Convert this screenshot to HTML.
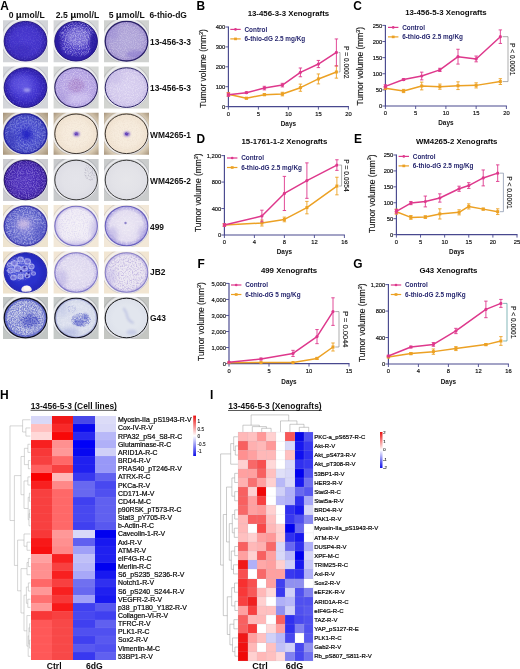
<!DOCTYPE html>
<html lang="en">
<head>
<meta charset="utf-8">
<title>Figure</title>
<style>
html,body{margin:0;padding:0;background:#fff;}
body{width:520px;height:669px;overflow:hidden;font-family:"Liberation Sans", Arial, sans-serif;}
svg{display:block;font-family:"Liberation Sans", Arial, sans-serif;}
</style>
</head>
<body>
<svg width="520" height="669" viewBox="0 0 520 669">
<rect width="520" height="669" fill="#ffffff"/>
<defs>
<filter id="nzF" x="-5%" y="-5%" width="110%" height="110%" color-interpolation-filters="sRGB"><feTurbulence type="fractalNoise" baseFrequency="0.77" numOctaves="2" seed="3"/><feColorMatrix type="matrix" values="0 0 0 0 0  0 0 0 0 0  0 0 0 0 0  3.0 0 0 0 -1.3" result="a"/><feComposite in="SourceGraphic" in2="a" operator="in"/><feGaussianBlur stdDeviation="0.35"/></filter>
<filter id="nzF2" x="-5%" y="-5%" width="110%" height="110%" color-interpolation-filters="sRGB"><feTurbulence type="fractalNoise" baseFrequency="0.87" numOctaves="2" seed="9"/><feColorMatrix type="matrix" values="0 0 0 0 0  0 0 0 0 0  0 0 0 0 0  2.8 0 0 0 -1.1" result="a"/><feComposite in="SourceGraphic" in2="a" operator="in"/><feGaussianBlur stdDeviation="0.32"/></filter>
<filter id="nzM" x="-5%" y="-5%" width="110%" height="110%" color-interpolation-filters="sRGB"><feTurbulence type="fractalNoise" baseFrequency="0.57" numOctaves="2" seed="11"/><feColorMatrix type="matrix" values="0 0 0 0 0  0 0 0 0 0  0 0 0 0 0  2.2 0 0 0 -0.9" result="a"/><feComposite in="SourceGraphic" in2="a" operator="in"/><feGaussianBlur stdDeviation="0.55"/></filter>
<filter id="nzC" x="-5%" y="-5%" width="110%" height="110%" color-interpolation-filters="sRGB"><feTurbulence type="fractalNoise" baseFrequency="0.22" numOctaves="2" seed="5"/><feColorMatrix type="matrix" values="0 0 0 0 0  0 0 0 0 0  0 0 0 0 0  3.0 0 0 0 -1.3" result="a"/><feComposite in="SourceGraphic" in2="a" operator="in"/><feGaussianBlur stdDeviation="0.6"/></filter>
<filter id="nzC2" x="-5%" y="-5%" width="110%" height="110%" color-interpolation-filters="sRGB"><feTurbulence type="fractalNoise" baseFrequency="0.16" numOctaves="3" seed="21"/><feColorMatrix type="matrix" values="0 0 0 0 0  0 0 0 0 0  0 0 0 0 0  2.6 0 0 0 -1.05" result="a"/><feComposite in="SourceGraphic" in2="a" operator="in"/><feGaussianBlur stdDeviation="0.7"/></filter>
<filter id="blur1" x="-60%" y="-60%" width="220%" height="220%"><feGaussianBlur stdDeviation="1.2"/></filter><filter id="blur2" x="-80%" y="-80%" width="260%" height="260%"><feGaussianBlur stdDeviation="2.2"/></filter><filter id="blur3" x="-80%" y="-80%" width="260%" height="260%"><feGaussianBlur stdDeviation="3.2"/></filter><filter id="blur05" x="-40%" y="-40%" width="180%" height="180%"><feGaussianBlur stdDeviation="0.55"/></filter><filter id="soft" x="-2%" y="-2%" width="104%" height="104%"><feGaussianBlur stdDeviation="0.32"/></filter>
<radialGradient id="g00" cx="50%" cy="50%" r="50%"><stop offset="0" stop-color="#4a3ad2"/><stop offset="0.7" stop-color="#4232c8"/><stop offset="1" stop-color="#2e20a4"/></radialGradient>
<clipPath id="c00"><rect x="3.0" y="20.2" width="45.0" height="42.0"/></clipPath>
<clipPath id="e00"><ellipse cx="25.5" cy="41.2" rx="21.3" ry="19.8"/></clipPath>
<radialGradient id="g01" cx="50%" cy="50%" r="50%"><stop offset="0" stop-color="#4a3ac6"/><stop offset="0.7" stop-color="#4030bc"/><stop offset="1" stop-color="#2a1ca0"/></radialGradient>
<clipPath id="c01"><rect x="53.6" y="20.2" width="45.0" height="42.0"/></clipPath>
<clipPath id="e01"><ellipse cx="76.1" cy="41.2" rx="21.3" ry="19.8"/></clipPath>
<radialGradient id="g02" cx="50%" cy="50%" r="50%"><stop offset="0" stop-color="#b2a8da"/><stop offset="0.75" stop-color="#aca0d6"/><stop offset="1" stop-color="#9888ca"/></radialGradient>
<clipPath id="c02"><rect x="104.0" y="20.2" width="45.0" height="42.0"/></clipPath>
<clipPath id="e02"><ellipse cx="126.5" cy="41.2" rx="21.3" ry="19.8"/></clipPath>
<radialGradient id="g10" cx="50%" cy="50%" r="50%"><stop offset="0" stop-color="#5a4ee0"/><stop offset="0.6" stop-color="#4032cc"/><stop offset="1" stop-color="#2a1ca6"/></radialGradient>
<clipPath id="c10"><rect x="3.0" y="66.6" width="45.0" height="42.0"/></clipPath>
<clipPath id="e10"><ellipse cx="25.5" cy="87.6" rx="21.3" ry="19.8"/></clipPath>
<radialGradient id="g11" cx="50%" cy="50%" r="50%"><stop offset="0" stop-color="#b6a2e2"/><stop offset="0.62" stop-color="#b8a6e4"/><stop offset="1" stop-color="#aa98de"/></radialGradient>
<clipPath id="c11"><rect x="53.6" y="66.6" width="45.0" height="42.0"/></clipPath>
<clipPath id="e11"><ellipse cx="76.1" cy="87.6" rx="21.3" ry="19.8"/></clipPath>
<radialGradient id="g12" cx="50%" cy="50%" r="50%"><stop offset="0" stop-color="#d8cff0"/><stop offset="0.75" stop-color="#d2c8ec"/><stop offset="1" stop-color="#c2b6e4"/></radialGradient>
<clipPath id="c12"><rect x="104.0" y="66.6" width="45.0" height="42.0"/></clipPath>
<clipPath id="e12"><ellipse cx="126.5" cy="87.6" rx="21.3" ry="19.8"/></clipPath>
<radialGradient id="g20" cx="50%" cy="50%" r="50%"><stop offset="0" stop-color="#3434c6"/><stop offset="0.62" stop-color="#4a4ecc"/><stop offset="1" stop-color="#3a3cb6"/></radialGradient>
<clipPath id="c20"><rect x="3.0" y="112.8" width="45.0" height="42.0"/></clipPath>
<clipPath id="e20"><ellipse cx="25.5" cy="133.8" rx="21.3" ry="19.8"/></clipPath>
<radialGradient id="b20" cx="50%" cy="50%" r="72%"><stop offset="0.72" stop-color="#c6b8a2"/><stop offset="1" stop-color="#9a866a"/></radialGradient>
<radialGradient id="g21" cx="50%" cy="50%" r="50%"><stop offset="0" stop-color="#f8eee0"/><stop offset="0.62" stop-color="#f6ebdc"/><stop offset="1" stop-color="#f0e2d0"/></radialGradient>
<clipPath id="c21"><rect x="53.6" y="112.8" width="45.0" height="42.0"/></clipPath>
<clipPath id="e21"><ellipse cx="76.1" cy="133.8" rx="21.3" ry="19.8"/></clipPath>
<radialGradient id="b21" cx="50%" cy="50%" r="72%"><stop offset="0.72" stop-color="#d8cab2"/><stop offset="1" stop-color="#96826a"/></radialGradient>
<radialGradient id="g22" cx="50%" cy="50%" r="50%"><stop offset="0" stop-color="#f8eee0"/><stop offset="0.62" stop-color="#f6ebdc"/><stop offset="1" stop-color="#f0e2d0"/></radialGradient>
<clipPath id="c22"><rect x="104.0" y="112.8" width="45.0" height="42.0"/></clipPath>
<clipPath id="e22"><ellipse cx="126.5" cy="133.8" rx="21.3" ry="19.8"/></clipPath>
<radialGradient id="b22" cx="50%" cy="50%" r="72%"><stop offset="0.72" stop-color="#dacdb6"/><stop offset="1" stop-color="#96826a"/></radialGradient>
<radialGradient id="g30" cx="50%" cy="50%" r="50%"><stop offset="0" stop-color="#4e30bc"/><stop offset="0.62" stop-color="#482ab4"/><stop offset="1" stop-color="#381c98"/></radialGradient>
<clipPath id="c30"><rect x="3.0" y="159.0" width="45.0" height="42.0"/></clipPath>
<clipPath id="e30"><ellipse cx="25.5" cy="180.0" rx="21.3" ry="19.8"/></clipPath>
<radialGradient id="g31" cx="50%" cy="50%" r="50%"><stop offset="0" stop-color="#e4e4ea"/><stop offset="0.62" stop-color="#e2e2e8"/><stop offset="1" stop-color="#dcdce4"/></radialGradient>
<clipPath id="c31"><rect x="53.6" y="159.0" width="45.0" height="42.0"/></clipPath>
<clipPath id="e31"><ellipse cx="76.1" cy="180.0" rx="21.3" ry="19.8"/></clipPath>
<radialGradient id="g32" cx="50%" cy="50%" r="50%"><stop offset="0" stop-color="#e6e6ea"/><stop offset="0.62" stop-color="#e3e3e8"/><stop offset="1" stop-color="#dedee4"/></radialGradient>
<clipPath id="c32"><rect x="104.0" y="159.0" width="45.0" height="42.0"/></clipPath>
<clipPath id="e32"><ellipse cx="126.5" cy="180.0" rx="21.3" ry="19.8"/></clipPath>
<radialGradient id="g40" cx="50%" cy="50%" r="50%"><stop offset="0" stop-color="#8684da"/><stop offset="0.62" stop-color="#6266cc"/><stop offset="1" stop-color="#4a4ec0"/></radialGradient>
<clipPath id="c40"><rect x="3.0" y="205.0" width="45.0" height="42.0"/></clipPath>
<clipPath id="e40"><ellipse cx="25.5" cy="226.0" rx="21.3" ry="19.8"/></clipPath>
<radialGradient id="g41" cx="50%" cy="50%" r="50%"><stop offset="0" stop-color="#f4f1f7"/><stop offset="0.84" stop-color="#f0ecf6"/><stop offset="1" stop-color="#c4bae6"/></radialGradient>
<clipPath id="c41"><rect x="53.6" y="205.0" width="45.0" height="42.0"/></clipPath>
<clipPath id="e41"><ellipse cx="76.1" cy="226.0" rx="21.3" ry="19.8"/></clipPath>
<radialGradient id="g42" cx="50%" cy="50%" r="50%"><stop offset="0" stop-color="#ebe7f3"/><stop offset="0.76" stop-color="#e2dcf0"/><stop offset="1" stop-color="#a298dc"/></radialGradient>
<clipPath id="c42"><rect x="104.0" y="205.0" width="45.0" height="42.0"/></clipPath>
<clipPath id="e42"><ellipse cx="126.5" cy="226.0" rx="21.3" ry="19.8"/></clipPath>
<radialGradient id="g50" cx="50%" cy="50%" r="50%"><stop offset="0" stop-color="#3238d0"/><stop offset="0.62" stop-color="#2a30cc"/><stop offset="1" stop-color="#2428b8"/></radialGradient>
<clipPath id="c50"><rect x="3.0" y="251.5" width="45.0" height="42.0"/></clipPath>
<clipPath id="e50"><ellipse cx="25.5" cy="272.5" rx="21.3" ry="19.8"/></clipPath>
<radialGradient id="g51" cx="50%" cy="50%" r="50%"><stop offset="0" stop-color="#e2ddf0"/><stop offset="0.8" stop-color="#dcd6ee"/><stop offset="1" stop-color="#b4aae2"/></radialGradient>
<clipPath id="c51"><rect x="53.6" y="251.5" width="45.0" height="42.0"/></clipPath>
<clipPath id="e51"><ellipse cx="76.1" cy="272.5" rx="21.3" ry="19.8"/></clipPath>
<radialGradient id="g52" cx="50%" cy="50%" r="50%"><stop offset="0" stop-color="#eeeaf3"/><stop offset="0.84" stop-color="#eae5f1"/><stop offset="1" stop-color="#c4bae6"/></radialGradient>
<clipPath id="c52"><rect x="104.0" y="251.5" width="45.0" height="42.0"/></clipPath>
<clipPath id="e52"><ellipse cx="126.5" cy="272.5" rx="21.3" ry="19.8"/></clipPath>
<radialGradient id="g60" cx="50%" cy="50%" r="50%"><stop offset="0" stop-color="#c4c9e6"/><stop offset="0.62" stop-color="#d4d8ec"/><stop offset="1" stop-color="#b4badf"/></radialGradient>
<clipPath id="c60"><rect x="3.0" y="297.0" width="45.0" height="42.0"/></clipPath>
<clipPath id="e60"><ellipse cx="25.5" cy="318.0" rx="21.3" ry="19.8"/></clipPath>
<radialGradient id="g61" cx="50%" cy="50%" r="50%"><stop offset="0" stop-color="#d6daec"/><stop offset="0.62" stop-color="#dce0ee"/><stop offset="1" stop-color="#d0d6e8"/></radialGradient>
<clipPath id="c61"><rect x="53.6" y="297.0" width="45.0" height="42.0"/></clipPath>
<clipPath id="e61"><ellipse cx="76.1" cy="318.0" rx="21.3" ry="19.8"/></clipPath>
<radialGradient id="g62" cx="50%" cy="50%" r="50%"><stop offset="0" stop-color="#e2e6ee"/><stop offset="0.62" stop-color="#e2e6ee"/><stop offset="1" stop-color="#dce0ea"/></radialGradient>
<clipPath id="c62"><rect x="104.0" y="297.0" width="45.0" height="42.0"/></clipPath>
<clipPath id="e62"><ellipse cx="126.5" cy="318.0" rx="21.3" ry="19.8"/></clipPath>
</defs>
<g clip-path="url(#c00)"><g filter="url(#soft)">
<rect x="2.0" y="19.2" width="47.0" height="44.0" fill="#d2d4d8"/>
<ellipse cx="25.20" cy="40.70" rx="22.60" ry="21.20" fill="none" stroke="#f2f2f6" stroke-opacity="0.75" stroke-width="1.9"/>
<ellipse cx="24.80" cy="40.00" rx="24.00" ry="22.70" fill="none" stroke="#7c7c8c" stroke-opacity="0.5" stroke-width="0.5"/>
<ellipse cx="25.50" cy="41.20" rx="21.3" ry="19.8" fill="url(#g00)"/>
<g clip-path="url(#e00)">
<ellipse cx="25.50" cy="41.20" rx="21.30" ry="19.80" fill="#7a6ce0" opacity="0.35" filter="url(#nzF)"/>
<ellipse cx="21.50" cy="50.20" rx="10.00" ry="6.00" fill="#3a2ab8" opacity="0.5" filter="url(#blur2)"/>
</g>
<ellipse cx="25.50" cy="41.20" rx="21.3" ry="19.8" fill="none" stroke="#281a88" stroke-width="1.0"/>
</g></g>
<g clip-path="url(#c01)"><g filter="url(#soft)">
<rect x="52.6" y="19.2" width="47.0" height="44.0" fill="#d4d6d8"/>
<ellipse cx="75.80" cy="40.70" rx="22.60" ry="21.20" fill="none" stroke="#f2f2f6" stroke-opacity="0.75" stroke-width="1.9"/>
<ellipse cx="75.40" cy="40.00" rx="24.00" ry="22.70" fill="none" stroke="#7c7c8c" stroke-opacity="0.5" stroke-width="0.5"/>
<ellipse cx="76.10" cy="41.20" rx="21.3" ry="19.8" fill="url(#g01)"/>
<g clip-path="url(#e01)">
<ellipse cx="77.10" cy="39.20" rx="18.80" ry="17.80" fill="#b8b0ee" opacity="0.7" filter="url(#nzF2)"/>
<ellipse cx="78.10" cy="37.20" rx="12.00" ry="10.00" fill="#a79ee6" opacity="0.5" filter="url(#blur3)"/>
<ellipse cx="78.10" cy="37.20" rx="12.00" ry="10.00" fill="#dcd8f8" opacity="0.42" filter="url(#nzF)"/>
<ellipse cx="94.10" cy="44.20" rx="4.50" ry="12.00" fill="#2a1ca0" opacity="0.85" filter="url(#blur1)"/>
<ellipse cx="57.60" cy="44.20" rx="4.00" ry="11.00" fill="#2a1ca0" opacity="0.8" filter="url(#blur1)"/>
<ellipse cx="74.10" cy="58.20" rx="12.00" ry="3.50" fill="#3020a8" opacity="0.7" filter="url(#blur1)"/>
</g>
<ellipse cx="76.10" cy="41.20" rx="21.3" ry="19.8" fill="none" stroke="#251880" stroke-width="1.0"/>
</g></g>
<g clip-path="url(#c02)"><g filter="url(#soft)">
<rect x="103.0" y="19.2" width="47.0" height="44.0" fill="#d0d2d0"/>
<ellipse cx="126.20" cy="40.70" rx="22.60" ry="21.20" fill="none" stroke="#f2f2f6" stroke-opacity="0.75" stroke-width="1.9"/>
<ellipse cx="125.80" cy="40.00" rx="24.00" ry="22.70" fill="none" stroke="#7c7c8c" stroke-opacity="0.5" stroke-width="0.5"/>
<ellipse cx="126.50" cy="41.20" rx="21.3" ry="19.8" fill="url(#g02)"/>
<g clip-path="url(#e02)">
<ellipse cx="126.50" cy="41.20" rx="21.30" ry="19.80" fill="#dcd6f0" opacity="0.45" filter="url(#nzF2)"/>
<ellipse cx="135.50" cy="54.20" rx="9.00" ry="4.00" fill="#8270cc" opacity="0.45" filter="url(#blur1)"/>
<ellipse cx="112.50" cy="33.20" rx="6.00" ry="8.00" fill="#9484d4" opacity="0.35" filter="url(#blur2)"/>
</g>
<ellipse cx="126.50" cy="41.20" rx="21.3" ry="19.8" fill="none" stroke="#2a2068" stroke-width="1.3"/>
</g></g>
<g clip-path="url(#c10)"><g filter="url(#soft)">
<rect x="2.0" y="65.6" width="47.0" height="44.0" fill="#d4d6da"/>
<ellipse cx="25.20" cy="87.10" rx="22.60" ry="21.20" fill="none" stroke="#f2f2f6" stroke-opacity="0.75" stroke-width="1.9"/>
<ellipse cx="24.80" cy="86.40" rx="24.00" ry="22.70" fill="none" stroke="#7c7c8c" stroke-opacity="0.5" stroke-width="0.5"/>
<ellipse cx="25.50" cy="87.60" rx="21.3" ry="19.8" fill="url(#g10)"/>
<g clip-path="url(#e10)">
<ellipse cx="20.50" cy="83.60" rx="12.00" ry="9.00" fill="#6a60e6" opacity="0.55" filter="url(#blur3)"/>
<ellipse cx="27.00" cy="90.10" rx="3.60" ry="1.80" fill="#b4b0f4" opacity="0.85" filter="url(#blur1)"/>
<ellipse cx="25.50" cy="87.60" rx="21.30" ry="19.80" fill="#8478e8" opacity="0.3" filter="url(#nzF)"/>
</g>
<ellipse cx="25.50" cy="87.60" rx="21.3" ry="19.8" fill="none" stroke="#261a86" stroke-width="1.0"/>
</g></g>
<g clip-path="url(#c11)"><g filter="url(#soft)">
<rect x="52.6" y="65.6" width="47.0" height="44.0" fill="#d6d8d6"/>
<ellipse cx="75.80" cy="87.10" rx="22.60" ry="21.20" fill="none" stroke="#f2f2f6" stroke-opacity="0.75" stroke-width="1.9"/>
<ellipse cx="75.40" cy="86.40" rx="24.00" ry="22.70" fill="none" stroke="#7c7c8c" stroke-opacity="0.5" stroke-width="0.5"/>
<ellipse cx="76.10" cy="87.60" rx="21.3" ry="19.8" fill="url(#g11)"/>
<g clip-path="url(#e11)">
<ellipse cx="76.10" cy="87.60" rx="21.30" ry="19.80" fill="#e6e0f8" opacity="0.5" filter="url(#nzF2)"/>
<ellipse cx="78.10" cy="98.60" rx="13.00" ry="6.00" fill="#d8cef4" opacity="0.55" filter="url(#blur2)"/>
<ellipse cx="76.10" cy="85.60" rx="8.00" ry="7.00" fill="#9a5aa8" opacity="0.2" filter="url(#blur2)"/>
<ellipse cx="76.10" cy="85.60" rx="8.00" ry="7.00" fill="#8a4c98" opacity="0.22" filter="url(#nzF)"/>
<ellipse cx="63.10" cy="97.60" rx="7.00" ry="6.00" fill="#a898d8" opacity="0.4" filter="url(#blur2)"/>
</g>
<ellipse cx="76.10" cy="87.60" rx="21.3" ry="19.8" fill="none" stroke="#2a2060" stroke-width="1.05"/>
</g></g>
<g clip-path="url(#c12)"><g filter="url(#soft)">
<rect x="103.0" y="65.6" width="47.0" height="44.0" fill="#d2d4d0"/>
<ellipse cx="126.20" cy="87.10" rx="22.60" ry="21.20" fill="none" stroke="#f2f2f6" stroke-opacity="0.75" stroke-width="1.9"/>
<ellipse cx="125.80" cy="86.40" rx="24.00" ry="22.70" fill="none" stroke="#7c7c8c" stroke-opacity="0.5" stroke-width="0.5"/>
<ellipse cx="126.50" cy="87.60" rx="21.3" ry="19.8" fill="url(#g12)"/>
<g clip-path="url(#e12)">
<ellipse cx="126.50" cy="87.60" rx="21.30" ry="19.80" fill="#f0ecfa" opacity="0.5" filter="url(#nzF2)"/>
<ellipse cx="114.50" cy="77.60" rx="8.00" ry="6.00" fill="#c0b4e4" opacity="0.4" filter="url(#blur2)"/>
</g>
<ellipse cx="126.50" cy="87.60" rx="21.3" ry="19.8" fill="none" stroke="#2c2468" stroke-width="1.0"/>
</g></g>
<g clip-path="url(#c20)"><g filter="url(#soft)">
<rect x="2.0" y="111.8" width="47.0" height="44.0" fill="url(#b20)"/>
<ellipse cx="25.20" cy="133.30" rx="22.60" ry="21.20" fill="none" stroke="#f2f2f6" stroke-opacity="0.75" stroke-width="1.9"/>
<ellipse cx="24.80" cy="132.60" rx="24.00" ry="22.70" fill="none" stroke="#7c7c8c" stroke-opacity="0.5" stroke-width="0.5"/>
<ellipse cx="25.50" cy="133.80" rx="21.3" ry="19.8" fill="url(#g20)"/>
<g clip-path="url(#e20)">
<ellipse cx="25.50" cy="133.80" rx="21.30" ry="19.80" fill="#9098e8" opacity="0.6" filter="url(#nzM)"/>
<ellipse cx="25.50" cy="133.80" rx="21.30" ry="19.80" fill="#b8c0f2" opacity="0.35" filter="url(#nzF)"/>
<ellipse cx="26.50" cy="134.80" rx="5.00" ry="5.00" fill="#2424c4" opacity="0.95" filter="url(#blur2)"/>
<ellipse cx="11.50" cy="139.80" rx="5.00" ry="9.00" fill="#3434b8" opacity="0.6" filter="url(#blur2)"/>
</g>
<ellipse cx="25.50" cy="133.80" rx="21.3" ry="19.8" fill="none" stroke="#2626a0" stroke-width="1.5"/>
</g></g>
<g clip-path="url(#c21)"><g filter="url(#soft)">
<rect x="52.6" y="111.8" width="47.0" height="44.0" fill="url(#b21)"/>
<ellipse cx="75.80" cy="133.30" rx="22.60" ry="21.20" fill="none" stroke="#f2f2f6" stroke-opacity="0.75" stroke-width="1.9"/>
<ellipse cx="75.40" cy="132.60" rx="24.00" ry="22.70" fill="none" stroke="#7c7c8c" stroke-opacity="0.5" stroke-width="0.5"/>
<ellipse cx="76.10" cy="133.80" rx="21.3" ry="19.8" fill="url(#g21)"/>
<g clip-path="url(#e21)">
<ellipse cx="76.50" cy="134.00" rx="3.00" ry="2.30" fill="#7a5ac8" opacity="1" filter="url(#blur1)"/>
<ellipse cx="76.30" cy="134.00" rx="1.70" ry="1.40" fill="#5a38b8" opacity="1" filter="url(#blur05)"/>
<ellipse cx="76.10" cy="133.80" rx="21.30" ry="19.80" fill="#e8d8c8" opacity="0.35" filter="url(#nzF)"/>
</g>
<ellipse cx="76.10" cy="133.80" rx="21.3" ry="19.8" fill="none" stroke="#2a2420" stroke-width="0.9"/>
</g></g>
<g clip-path="url(#c22)"><g filter="url(#soft)">
<rect x="103.0" y="111.8" width="47.0" height="44.0" fill="url(#b22)"/>
<ellipse cx="126.20" cy="133.30" rx="22.60" ry="21.20" fill="none" stroke="#f2f2f6" stroke-opacity="0.75" stroke-width="1.9"/>
<ellipse cx="125.80" cy="132.60" rx="24.00" ry="22.70" fill="none" stroke="#7c7c8c" stroke-opacity="0.5" stroke-width="0.5"/>
<ellipse cx="126.50" cy="133.80" rx="21.3" ry="19.8" fill="url(#g22)"/>
<g clip-path="url(#e22)">
<ellipse cx="126.90" cy="134.00" rx="3.00" ry="2.30" fill="#7a5ac8" opacity="1" filter="url(#blur1)"/>
<ellipse cx="126.70" cy="134.00" rx="1.70" ry="1.40" fill="#5a38b8" opacity="1" filter="url(#blur05)"/>
<ellipse cx="126.50" cy="133.80" rx="21.30" ry="19.80" fill="#e8d8c8" opacity="0.35" filter="url(#nzF)"/>
</g>
<ellipse cx="126.50" cy="133.80" rx="21.3" ry="19.8" fill="none" stroke="#2a2420" stroke-width="0.9"/>
</g></g>
<g clip-path="url(#c30)"><g filter="url(#soft)">
<rect x="2.0" y="158.0" width="47.0" height="44.0" fill="#ccccd0"/>
<ellipse cx="25.20" cy="179.50" rx="22.60" ry="21.20" fill="none" stroke="#f2f2f6" stroke-opacity="0.75" stroke-width="1.9"/>
<ellipse cx="24.80" cy="178.80" rx="24.00" ry="22.70" fill="none" stroke="#7c7c8c" stroke-opacity="0.5" stroke-width="0.5"/>
<ellipse cx="25.50" cy="180.00" rx="21.3" ry="19.8" fill="url(#g30)"/>
<g clip-path="url(#e30)">
<ellipse cx="25.50" cy="180.00" rx="21.30" ry="19.80" fill="#a08ce4" opacity="0.6" filter="url(#nzF2)"/>
<ellipse cx="22.50" cy="183.00" rx="10.00" ry="8.00" fill="#8068d4" opacity="0.35" filter="url(#nzM)"/>
</g>
<ellipse cx="25.50" cy="180.00" rx="21.3" ry="19.8" fill="none" stroke="#241468" stroke-width="1.0"/>
</g></g>
<g clip-path="url(#c31)"><g filter="url(#soft)">
<rect x="52.6" y="158.0" width="47.0" height="44.0" fill="#c8cacc"/>
<ellipse cx="75.80" cy="179.50" rx="22.60" ry="21.20" fill="none" stroke="#f2f2f6" stroke-opacity="0.75" stroke-width="1.9"/>
<ellipse cx="75.40" cy="178.80" rx="24.00" ry="22.70" fill="none" stroke="#7c7c8c" stroke-opacity="0.5" stroke-width="0.5"/>
<ellipse cx="76.10" cy="180.00" rx="21.3" ry="19.8" fill="url(#g31)"/>
<g clip-path="url(#e31)">
<ellipse cx="90.10" cy="172.00" rx="6.00" ry="9.00" fill="#50486c" opacity="0.22" filter="url(#nzF)"/>
</g>
<ellipse cx="76.10" cy="180.00" rx="21.3" ry="19.8" fill="none" stroke="#2a2a2a" stroke-width="0.9"/>
</g></g>
<g clip-path="url(#c32)"><g filter="url(#soft)">
<rect x="103.0" y="158.0" width="47.0" height="44.0" fill="#cacccc"/>
<ellipse cx="126.20" cy="179.50" rx="22.60" ry="21.20" fill="none" stroke="#f2f2f6" stroke-opacity="0.75" stroke-width="1.9"/>
<ellipse cx="125.80" cy="178.80" rx="24.00" ry="22.70" fill="none" stroke="#7c7c8c" stroke-opacity="0.5" stroke-width="0.5"/>
<ellipse cx="126.50" cy="180.00" rx="21.3" ry="19.8" fill="url(#g32)"/>
<g clip-path="url(#e32)">
</g>
<ellipse cx="126.50" cy="180.00" rx="21.3" ry="19.8" fill="none" stroke="#2a2a2a" stroke-width="0.9"/>
</g></g>
<g clip-path="url(#c40)"><g filter="url(#soft)">
<rect x="2.0" y="204.0" width="47.0" height="44.0" fill="#eee4d0"/>
<ellipse cx="25.20" cy="225.50" rx="22.60" ry="21.20" fill="none" stroke="#f2f2f6" stroke-opacity="0.75" stroke-width="1.9"/>
<ellipse cx="24.80" cy="224.80" rx="24.00" ry="22.70" fill="none" stroke="#7c7c8c" stroke-opacity="0.5" stroke-width="0.5"/>
<ellipse cx="25.50" cy="226.00" rx="21.3" ry="19.8" fill="url(#g40)"/>
<g clip-path="url(#e40)">
<ellipse cx="25.50" cy="226.00" rx="21.30" ry="19.80" fill="#c4c4f0" opacity="0.7" filter="url(#nzM)"/>
<ellipse cx="25.50" cy="226.00" rx="21.30" ry="19.80" fill="#dcdcf8" opacity="0.4" filter="url(#nzF)"/>
<ellipse cx="23.50" cy="224.00" rx="6.00" ry="4.50" fill="#dcc8e6" opacity="0.75" filter="url(#blur2)"/>
<ellipse cx="39.50" cy="232.00" rx="5.00" ry="9.00" fill="#4a4cc0" opacity="0.5" filter="url(#blur2)"/>
</g>
<ellipse cx="25.50" cy="226.00" rx="21.3" ry="19.8" fill="none" stroke="#3c38a8" stroke-width="1.3"/>
</g></g>
<g clip-path="url(#c41)"><g filter="url(#soft)">
<rect x="52.6" y="204.0" width="47.0" height="44.0" fill="#f2e8d8"/>
<ellipse cx="75.80" cy="225.50" rx="22.60" ry="21.20" fill="none" stroke="#f2f2f6" stroke-opacity="0.75" stroke-width="1.9"/>
<ellipse cx="75.40" cy="224.80" rx="24.00" ry="22.70" fill="none" stroke="#7c7c8c" stroke-opacity="0.5" stroke-width="0.5"/>
<ellipse cx="76.10" cy="226.00" rx="21.3" ry="19.8" fill="url(#g41)"/>
<g clip-path="url(#e41)">
<ellipse cx="94.10" cy="230.00" rx="3.50" ry="10.00" fill="#aea4e0" opacity="0.45" filter="url(#blur2)"/>
<ellipse cx="77.10" cy="244.00" rx="11.00" ry="3.00" fill="#b4aae2" opacity="0.45" filter="url(#blur2)"/>
<ellipse cx="57.10" cy="228.00" rx="2.50" ry="8.00" fill="#c4bae8" opacity="0.3" filter="url(#blur2)"/>
<ellipse cx="76.10" cy="226.00" rx="21.30" ry="19.80" fill="#c8c0ea" opacity="0.35" filter="url(#nzF)"/>
</g>
<ellipse cx="76.10" cy="226.00" rx="21.3" ry="19.8" fill="none" stroke="#7870c4" stroke-width="1.1"/>
</g></g>
<g clip-path="url(#c42)"><g filter="url(#soft)">
<rect x="103.0" y="204.0" width="47.0" height="44.0" fill="#f2e8d8"/>
<ellipse cx="126.20" cy="225.50" rx="22.60" ry="21.20" fill="none" stroke="#f2f2f6" stroke-opacity="0.75" stroke-width="1.9"/>
<ellipse cx="125.80" cy="224.80" rx="24.00" ry="22.70" fill="none" stroke="#7c7c8c" stroke-opacity="0.5" stroke-width="0.5"/>
<ellipse cx="126.50" cy="226.00" rx="21.3" ry="19.8" fill="url(#g42)"/>
<g clip-path="url(#e42)">
<ellipse cx="126.50" cy="226.00" rx="21.30" ry="19.80" fill="#f6f2fa" opacity="0.55" filter="url(#nzM)"/>
<ellipse cx="125.50" cy="223.00" rx="1.20" ry="1.20" fill="#7468c0" opacity="0.8" filter="url(#blur05)"/>
<ellipse cx="112.50" cy="235.00" rx="5.00" ry="8.00" fill="#a096dc" opacity="0.4" filter="url(#blur2)"/>
<ellipse cx="142.50" cy="234.00" rx="4.00" ry="8.00" fill="#a096dc" opacity="0.4" filter="url(#blur2)"/>
</g>
<ellipse cx="126.50" cy="226.00" rx="21.3" ry="19.8" fill="none" stroke="#6860be" stroke-width="1.1"/>
</g></g>
<g clip-path="url(#c50)"><g filter="url(#soft)">
<rect x="2.0" y="250.5" width="47.0" height="44.0" fill="#eee2cc"/>
<ellipse cx="25.20" cy="272.00" rx="22.60" ry="21.20" fill="none" stroke="#f2f2f6" stroke-opacity="0.75" stroke-width="1.9"/>
<ellipse cx="24.80" cy="271.30" rx="24.00" ry="22.70" fill="none" stroke="#7c7c8c" stroke-opacity="0.5" stroke-width="0.5"/>
<ellipse cx="25.50" cy="272.50" rx="21.3" ry="19.8" fill="url(#g50)"/>
<g clip-path="url(#e50)">
<ellipse cx="19.50" cy="268.50" rx="12.00" ry="11.00" fill="#5c64dc" opacity="0.7" filter="url(#blur2)"/>
<ellipse cx="14.50" cy="263.50" rx="3.00" ry="2.70" fill="#c4b4e4" fill-opacity="0.35" stroke="#aab0f0" stroke-width="1.1" stroke-opacity="0.8" filter="url(#blur05)"/>
<ellipse cx="20.50" cy="259.50" rx="2.80" ry="2.52" fill="#c4b4e4" fill-opacity="0.35" stroke="#aab0f0" stroke-width="1.1" stroke-opacity="0.8" filter="url(#blur05)"/>
<ellipse cx="27.50" cy="261.50" rx="3.00" ry="2.70" fill="#c4b4e4" fill-opacity="0.35" stroke="#aab0f0" stroke-width="1.1" stroke-opacity="0.8" filter="url(#blur05)"/>
<ellipse cx="10.50" cy="270.50" rx="2.80" ry="2.52" fill="#c4b4e4" fill-opacity="0.35" stroke="#aab0f0" stroke-width="1.1" stroke-opacity="0.8" filter="url(#blur05)"/>
<ellipse cx="17.50" cy="268.50" rx="3.20" ry="2.88" fill="#c4b4e4" fill-opacity="0.35" stroke="#aab0f0" stroke-width="1.1" stroke-opacity="0.8" filter="url(#blur05)"/>
<ellipse cx="24.50" cy="268.50" rx="2.80" ry="2.52" fill="#c4b4e4" fill-opacity="0.35" stroke="#aab0f0" stroke-width="1.1" stroke-opacity="0.8" filter="url(#blur05)"/>
<ellipse cx="31.50" cy="266.50" rx="2.60" ry="2.34" fill="#c4b4e4" fill-opacity="0.35" stroke="#aab0f0" stroke-width="1.1" stroke-opacity="0.8" filter="url(#blur05)"/>
<ellipse cx="13.50" cy="277.50" rx="2.80" ry="2.52" fill="#c4b4e4" fill-opacity="0.35" stroke="#aab0f0" stroke-width="1.1" stroke-opacity="0.8" filter="url(#blur05)"/>
<ellipse cx="20.50" cy="276.50" rx="2.60" ry="2.34" fill="#c4b4e4" fill-opacity="0.35" stroke="#aab0f0" stroke-width="1.1" stroke-opacity="0.8" filter="url(#blur05)"/>
<ellipse cx="27.50" cy="275.50" rx="2.40" ry="2.16" fill="#c4b4e4" fill-opacity="0.35" stroke="#aab0f0" stroke-width="1.1" stroke-opacity="0.8" filter="url(#blur05)"/>
<ellipse cx="33.50" cy="273.50" rx="2.00" ry="1.80" fill="#c4b4e4" fill-opacity="0.35" stroke="#aab0f0" stroke-width="1.1" stroke-opacity="0.8" filter="url(#blur05)"/>
<ellipse cx="9.50" cy="264.50" rx="2.00" ry="1.80" fill="#c4b4e4" fill-opacity="0.35" stroke="#aab0f0" stroke-width="1.1" stroke-opacity="0.8" filter="url(#blur05)"/>
<ellipse cx="19.50" cy="268.50" rx="14.00" ry="12.00" fill="#e6e0f6" opacity="0.5" filter="url(#nzM)"/>
<ellipse cx="24.50" cy="267.50" rx="1.10" ry="1.10" fill="#20188c" opacity="0.8" filter="url(#blur05)"/>
<ellipse cx="28.50" cy="273.00" rx="1.10" ry="1.10" fill="#20188c" opacity="0.8" filter="url(#blur05)"/>
<ellipse cx="21.00" cy="271.00" rx="1.10" ry="1.10" fill="#20188c" opacity="0.8" filter="url(#blur05)"/>
<ellipse cx="27.00" cy="276.50" rx="1.10" ry="1.10" fill="#20188c" opacity="0.8" filter="url(#blur05)"/>
<ellipse cx="26.50" cy="289.50" rx="5.20" ry="4.00" fill="#f4ecec" opacity="1" filter="url(#blur05)"/>
<ellipse cx="27.00" cy="288.00" rx="3.20" ry="2.20" fill="#fffaf4" opacity="1" filter="url(#blur05)"/>
</g>
<ellipse cx="25.50" cy="272.50" rx="21.3" ry="19.8" fill="none" stroke="#2424a8" stroke-width="0.9"/>
</g></g>
<g clip-path="url(#c51)"><g filter="url(#soft)">
<rect x="52.6" y="250.5" width="47.0" height="44.0" fill="#f2e6d4"/>
<ellipse cx="75.80" cy="272.00" rx="22.60" ry="21.20" fill="none" stroke="#f2f2f6" stroke-opacity="0.75" stroke-width="1.9"/>
<ellipse cx="75.40" cy="271.30" rx="24.00" ry="22.70" fill="none" stroke="#7c7c8c" stroke-opacity="0.5" stroke-width="0.5"/>
<ellipse cx="76.10" cy="272.50" rx="21.3" ry="19.8" fill="url(#g51)"/>
<g clip-path="url(#e51)">
<ellipse cx="76.10" cy="272.50" rx="21.30" ry="19.80" fill="#f4f0fa" opacity="0.6" filter="url(#nzM)"/>
<ellipse cx="76.10" cy="272.50" rx="21.30" ry="19.80" fill="#f4f0fa" opacity="0.4" filter="url(#nzF)"/>
<ellipse cx="62.10" cy="278.50" rx="5.00" ry="9.00" fill="#a89ede" opacity="0.4" filter="url(#blur2)"/>
</g>
<ellipse cx="76.10" cy="272.50" rx="21.3" ry="19.8" fill="none" stroke="#8078c8" stroke-width="1.1"/>
</g></g>
<g clip-path="url(#c52)"><g filter="url(#soft)">
<rect x="103.0" y="250.5" width="47.0" height="44.0" fill="#f2e6d2"/>
<ellipse cx="126.20" cy="272.00" rx="22.60" ry="21.20" fill="none" stroke="#f2f2f6" stroke-opacity="0.75" stroke-width="1.9"/>
<ellipse cx="125.80" cy="271.30" rx="24.00" ry="22.70" fill="none" stroke="#7c7c8c" stroke-opacity="0.5" stroke-width="0.5"/>
<ellipse cx="126.50" cy="272.50" rx="21.3" ry="19.8" fill="url(#g52)"/>
<g clip-path="url(#e52)">
<ellipse cx="126.50" cy="272.50" rx="21.30" ry="19.80" fill="#a898d8" opacity="0.55" filter="url(#nzF)"/>
<ellipse cx="111.50" cy="276.50" rx="4.00" ry="9.00" fill="#c0b6e6" opacity="0.5" filter="url(#blur2)"/>
</g>
<ellipse cx="126.50" cy="272.50" rx="21.3" ry="19.8" fill="none" stroke="#8880c8" stroke-width="1.1"/>
</g></g>
<g clip-path="url(#c60)"><g filter="url(#soft)">
<rect x="2.0" y="296.0" width="47.0" height="44.0" fill="#c2c6c4"/>
<ellipse cx="25.20" cy="317.50" rx="22.60" ry="21.20" fill="none" stroke="#f2f2f6" stroke-opacity="0.75" stroke-width="1.9"/>
<ellipse cx="24.80" cy="316.80" rx="24.00" ry="22.70" fill="none" stroke="#7c7c8c" stroke-opacity="0.5" stroke-width="0.5"/>
<ellipse cx="25.50" cy="318.00" rx="21.3" ry="19.8" fill="url(#g60)"/>
<g clip-path="url(#e60)">
<ellipse cx="25.50" cy="318.00" rx="21.30" ry="19.80" fill="#5058c8" opacity="0.6" filter="url(#nzF2)"/>
<ellipse cx="25.50" cy="318.00" rx="21.30" ry="19.80" fill="#4048c0" opacity="0.45" filter="url(#nzM)"/>
<ellipse cx="30.50" cy="321.00" rx="9.00" ry="6.00" fill="#4850c4" opacity="0.55" filter="url(#blur2)"/>
<ellipse cx="30.50" cy="321.00" rx="10.00" ry="7.00" fill="#3038b8" opacity="0.7" filter="url(#nzM)"/>
<ellipse cx="29.50" cy="309.00" rx="8.00" ry="5.00" fill="#5860c8" opacity="0.5" filter="url(#nzF)"/>
<ellipse cx="13.50" cy="326.00" rx="8.00" ry="9.00" fill="#4850c4" opacity="0.45" filter="url(#nzF)"/>
<ellipse cx="25.5" cy="318.0" rx="20.1" ry="18.6" fill="none" stroke="#3c44bc" stroke-width="2.2" opacity="0.55" filter="url(#blur05)"/>
</g>
<ellipse cx="25.50" cy="318.00" rx="21.3" ry="19.8" fill="none" stroke="#101020" stroke-width="1.2"/>
</g></g>
<g clip-path="url(#c61)"><g filter="url(#soft)">
<rect x="52.6" y="296.0" width="47.0" height="44.0" fill="#c6cac8"/>
<ellipse cx="75.80" cy="317.50" rx="22.60" ry="21.20" fill="none" stroke="#f2f2f6" stroke-opacity="0.75" stroke-width="1.9"/>
<ellipse cx="75.40" cy="316.80" rx="24.00" ry="22.70" fill="none" stroke="#7c7c8c" stroke-opacity="0.5" stroke-width="0.5"/>
<ellipse cx="76.10" cy="318.00" rx="21.3" ry="19.8" fill="url(#g61)"/>
<g clip-path="url(#e61)">
<ellipse cx="76.10" cy="318.00" rx="21.30" ry="19.80" fill="#f2f4fa" opacity="0.5" filter="url(#nzM)"/>
<ellipse cx="79.10" cy="322.50" rx="5.50" ry="3.00" fill="#5c64ca" opacity="0.55" filter="url(#blur1)"/>
<ellipse cx="85.60" cy="317.00" rx="2.40" ry="4.00" fill="#6c74ce" opacity="0.5" filter="url(#blur1)"/>
<ellipse cx="81.10" cy="320.00" rx="9.00" ry="6.50" fill="#4048c0" opacity="0.75" filter="url(#nzM)"/>
<ellipse cx="81.10" cy="320.00" rx="10.00" ry="7.00" fill="#4850c4" opacity="0.5" filter="url(#nzF2)"/>
<ellipse cx="72.10" cy="309.00" rx="5.00" ry="4.00" fill="#7880d0" opacity="0.4" filter="url(#nzF)"/>
<ellipse cx="70.10" cy="332.00" rx="9.00" ry="4.00" fill="#8c94d8" opacity="0.4" filter="url(#blur2)"/>
<ellipse cx="63.10" cy="310.00" rx="5.00" ry="7.00" fill="#a8b0e0" opacity="0.3" filter="url(#blur2)"/>
<ellipse cx="76.1" cy="318.0" rx="20.3" ry="18.8" fill="none" stroke="#7078cc" stroke-width="1.6" opacity="0.3" filter="url(#blur05)"/>
</g>
<ellipse cx="76.10" cy="318.00" rx="21.3" ry="19.8" fill="none" stroke="#181828" stroke-width="1.1"/>
</g></g>
<g clip-path="url(#c62)"><g filter="url(#soft)">
<rect x="103.0" y="296.0" width="47.0" height="44.0" fill="#c4c6c2"/>
<ellipse cx="126.20" cy="317.50" rx="22.60" ry="21.20" fill="none" stroke="#f2f2f6" stroke-opacity="0.75" stroke-width="1.9"/>
<ellipse cx="125.80" cy="316.80" rx="24.00" ry="22.70" fill="none" stroke="#7c7c8c" stroke-opacity="0.5" stroke-width="0.5"/>
<ellipse cx="126.50" cy="318.00" rx="21.3" ry="19.8" fill="url(#g62)"/>
<g clip-path="url(#e62)">
<path d="M123.5,308.0 q3,4 4,9 q1,4 6,6" fill="none" stroke="#8088d0" stroke-width="2.0" opacity="0.36" filter="url(#blur1)"/>
<ellipse cx="131.50" cy="332.00" rx="5.00" ry="2.60" fill="#a4ace0" opacity="0.4" filter="url(#blur1)"/>
</g>
<ellipse cx="126.50" cy="318.00" rx="21.3" ry="19.8" fill="none" stroke="#0c0c10" stroke-width="0.95"/>
</g></g>
<text x="0.30" y="9.80" font-size="11.9" font-weight="bold" fill="#000" text-anchor="start" >A</text>
<text x="26.7" y="18.0" font-size="8.6" font-weight="bold" fill="#111" text-anchor="middle">0 <tspan font-family="DejaVu Sans, Liberation Sans, sans-serif" font-size="8.2">μ</tspan>mol/L</text>
<text x="77.5" y="18.0" font-size="8.6" font-weight="bold" fill="#111" text-anchor="middle">2.5 <tspan font-family="DejaVu Sans, Liberation Sans, sans-serif" font-size="8.2">μ</tspan>mol/L</text>
<text x="126.7" y="18.0" font-size="8.6" font-weight="bold" fill="#111" text-anchor="middle">5 <tspan font-family="DejaVu Sans, Liberation Sans, sans-serif" font-size="8.2">μ</tspan>mol/L</text>
<text x="149.40" y="18.00" font-size="8.45" font-weight="bold" fill="#111" text-anchor="start" >6-thio-dG</text>
<text x="150.00" y="45.40" font-size="8.4" font-weight="bold" fill="#111" text-anchor="start" >13-456-3-3</text>
<text x="150.00" y="91.00" font-size="8.4" font-weight="bold" fill="#111" text-anchor="start" >13-456-5-3</text>
<text x="150.00" y="137.50" font-size="8.4" font-weight="bold" fill="#111" text-anchor="start" >WM4265-1</text>
<text x="150.00" y="183.50" font-size="8.4" font-weight="bold" fill="#111" text-anchor="start" >WM4265-2</text>
<text x="150.00" y="229.50" font-size="8.4" font-weight="bold" fill="#111" text-anchor="start" >499</text>
<text x="150.00" y="275.40" font-size="8.4" font-weight="bold" fill="#111" text-anchor="start" >JB2</text>
<text x="150.00" y="321.40" font-size="8.4" font-weight="bold" fill="#111" text-anchor="start" >G43</text>
<text x="196.60" y="9.80" font-size="11.9" font-weight="bold" fill="#000" text-anchor="start" >B</text>
<text x="288.40" y="16.40" font-size="7.85" font-weight="bold" fill="#0a0a0a" text-anchor="middle" >13-456-3-3 Xenografts</text>
<path d="M228.40,26.50 V106.60 H348.90" fill="none" stroke="#48488e" stroke-width="1.15"/>
<path d="M225.40,106.60 H228.40" stroke="#48488e" stroke-width="0.9"/>
<text x="225.30" y="108.70" font-size="5.8" font-weight="normal" fill="#0a0a0a" text-anchor="end" stroke="#0a0a0a" stroke-width="0.15">0</text>
<path d="M225.40,86.70 H228.40" stroke="#48488e" stroke-width="0.9"/>
<text x="225.30" y="88.80" font-size="5.8" font-weight="normal" fill="#0a0a0a" text-anchor="end" stroke="#0a0a0a" stroke-width="0.15">100</text>
<path d="M225.40,66.80 H228.40" stroke="#48488e" stroke-width="0.9"/>
<text x="225.30" y="68.90" font-size="5.8" font-weight="normal" fill="#0a0a0a" text-anchor="end" stroke="#0a0a0a" stroke-width="0.15">200</text>
<path d="M225.40,46.90 H228.40" stroke="#48488e" stroke-width="0.9"/>
<text x="225.30" y="49.00" font-size="5.8" font-weight="normal" fill="#0a0a0a" text-anchor="end" stroke="#0a0a0a" stroke-width="0.15">300</text>
<path d="M225.40,27.00 H228.40" stroke="#48488e" stroke-width="0.9"/>
<text x="225.30" y="29.10" font-size="5.8" font-weight="normal" fill="#0a0a0a" text-anchor="end" stroke="#0a0a0a" stroke-width="0.15">400</text>
<path d="M228.40,106.60 v3.0" stroke="#48488e" stroke-width="0.9"/>
<text x="228.40" y="115.50" font-size="5.8" font-weight="normal" fill="#0a0a0a" text-anchor="middle" stroke="#0a0a0a" stroke-width="0.15">0</text>
<path d="M258.40,106.60 v3.0" stroke="#48488e" stroke-width="0.9"/>
<text x="258.40" y="115.50" font-size="5.8" font-weight="normal" fill="#0a0a0a" text-anchor="middle" stroke="#0a0a0a" stroke-width="0.15">5</text>
<path d="M288.40,106.60 v3.0" stroke="#48488e" stroke-width="0.9"/>
<text x="288.40" y="115.50" font-size="5.8" font-weight="normal" fill="#0a0a0a" text-anchor="middle" stroke="#0a0a0a" stroke-width="0.15">10</text>
<path d="M318.40,106.60 v3.0" stroke="#48488e" stroke-width="0.9"/>
<text x="318.40" y="115.50" font-size="5.8" font-weight="normal" fill="#0a0a0a" text-anchor="middle" stroke="#0a0a0a" stroke-width="0.15">15</text>
<path d="M348.40,106.60 v3.0" stroke="#48488e" stroke-width="0.9"/>
<text x="348.40" y="115.50" font-size="5.8" font-weight="normal" fill="#0a0a0a" text-anchor="middle" stroke="#0a0a0a" stroke-width="0.15">20</text>
<text transform="translate(206.30,68.50) rotate(-90)" font-size="8.45" fill="#141414" stroke="#141414" stroke-width="0.15" text-anchor="middle">Tumor volume (mm<tspan font-size="5.4" dy="-3.2">3</tspan><tspan dy="3.2">)</tspan></text>
<text x="288.40" y="125.90" font-size="6.4" font-weight="bold" fill="#111" text-anchor="middle" >Days</text>
<path d="M230.30,29.40 h10.4" stroke="#de388c" stroke-width="1.2"/>
<circle cx="235.50" cy="29.40" r="1.3" fill="#de388c"/>
<text x="244.50" y="31.70" font-size="6.4" font-weight="bold" fill="#26266e" text-anchor="start" >Control</text>
<path d="M230.30,38.90 h10.4" stroke="#eca124" stroke-width="1.2"/>
<rect x="234.10" y="37.60" width="2.8" height="2.6" fill="#eca124"/>
<text x="244.50" y="41.20" font-size="6.4" font-weight="bold" fill="#26266e" text-anchor="start" >6-thio-dG 2.5 mg/Kg</text>
<path d="M228.40,92.47 V96.05 M226.70,92.47 h3.4 M226.70,96.05 h3.4" fill="none" stroke="#eca124" stroke-width="0.9"/>
<path d="M246.40,97.45 V99.04 M244.70,97.45 h3.4 M244.70,99.04 h3.4" fill="none" stroke="#eca124" stroke-width="0.9"/>
<path d="M264.40,93.66 V95.66 M262.70,93.66 h3.4 M262.70,95.66 h3.4" fill="none" stroke="#eca124" stroke-width="0.9"/>
<path d="M282.40,92.27 V95.85 M280.70,92.27 h3.4 M280.70,95.85 h3.4" fill="none" stroke="#eca124" stroke-width="0.9"/>
<path d="M300.40,84.11 V91.28 M298.70,84.11 h3.4 M298.70,91.28 h3.4" fill="none" stroke="#eca124" stroke-width="0.9"/>
<path d="M318.40,73.96 V83.91 M316.70,73.96 h3.4 M316.70,83.91 h3.4" fill="none" stroke="#eca124" stroke-width="0.9"/>
<path d="M336.40,65.81 V78.14 M334.70,65.81 h3.4 M334.70,78.14 h3.4" fill="none" stroke="#eca124" stroke-width="0.9"/>
<path d="M228.40,94.26 L246.40,98.24 L264.40,94.66 L282.40,94.06 L300.40,87.69 L318.40,78.94 L336.40,71.97" fill="none" stroke="#eca124" stroke-width="1.5" stroke-linejoin="round"/>
<rect x="226.90" y="92.76" width="3.0" height="3.0" fill="#eca124"/>
<rect x="244.90" y="96.74" width="3.0" height="3.0" fill="#eca124"/>
<rect x="262.90" y="93.16" width="3.0" height="3.0" fill="#eca124"/>
<rect x="280.90" y="92.56" width="3.0" height="3.0" fill="#eca124"/>
<rect x="298.90" y="86.19" width="3.0" height="3.0" fill="#eca124"/>
<rect x="316.90" y="77.44" width="3.0" height="3.0" fill="#eca124"/>
<rect x="334.90" y="70.47" width="3.0" height="3.0" fill="#eca124"/>
<path d="M228.40,93.07 V96.25 M226.70,93.07 h3.4 M226.70,96.25 h3.4" fill="none" stroke="#de388c" stroke-width="0.9"/>
<path d="M246.40,91.87 V93.47 M244.70,91.87 h3.4 M244.70,93.47 h3.4" fill="none" stroke="#de388c" stroke-width="0.9"/>
<path d="M264.40,86.30 V89.88 M262.70,86.30 h3.4 M262.70,89.88 h3.4" fill="none" stroke="#de388c" stroke-width="0.9"/>
<path d="M282.40,83.32 V86.90 M280.70,83.32 h3.4 M280.70,86.90 h3.4" fill="none" stroke="#de388c" stroke-width="0.9"/>
<path d="M300.40,67.99 V76.75 M298.70,67.99 h3.4 M298.70,76.75 h3.4" fill="none" stroke="#de388c" stroke-width="0.9"/>
<path d="M318.40,60.43 V67.60 M316.70,60.43 h3.4 M316.70,67.60 h3.4" fill="none" stroke="#de388c" stroke-width="0.9"/>
<path d="M336.40,38.94 V66.00 M334.70,38.94 h3.4 M334.70,66.00 h3.4" fill="none" stroke="#de388c" stroke-width="0.9"/>
<path d="M228.40,94.66 L246.40,92.67 L264.40,88.09 L282.40,85.11 L300.40,72.37 L318.40,64.01 L336.40,52.47" fill="none" stroke="#de388c" stroke-width="1.5" stroke-linejoin="round"/>
<circle cx="228.40" cy="94.66" r="1.6" fill="#de388c"/>
<circle cx="246.40" cy="92.67" r="1.6" fill="#de388c"/>
<circle cx="264.40" cy="88.09" r="1.6" fill="#de388c"/>
<circle cx="282.40" cy="85.11" r="1.6" fill="#de388c"/>
<circle cx="300.40" cy="72.37" r="1.6" fill="#de388c"/>
<circle cx="318.40" cy="64.01" r="1.6" fill="#de388c"/>
<circle cx="336.40" cy="52.47" r="1.6" fill="#de388c"/>
<path d="M338.60,52.47 H340.00 V71.97 H338.60" fill="none" stroke="#8a8a8a" stroke-width="0.7"/>
<text transform="translate(343.70,62.22) rotate(90)" font-size="6.7" fill="#141414" stroke="#141414" stroke-width="0.12" text-anchor="middle">P = 0.0002</text>
<text x="353.20" y="9.80" font-size="11.9" font-weight="bold" fill="#000" text-anchor="start" >C</text>
<text x="445.90" y="14.80" font-size="7.85" font-weight="bold" fill="#0a0a0a" text-anchor="middle" >13-456-5-3 Xenografts</text>
<path d="M385.40,24.90 V106.00 H506.90" fill="none" stroke="#48488e" stroke-width="1.15"/>
<path d="M382.40,106.00 H385.40" stroke="#48488e" stroke-width="0.9"/>
<text x="382.30" y="108.10" font-size="5.8" font-weight="normal" fill="#0a0a0a" text-anchor="end" stroke="#0a0a0a" stroke-width="0.15">0</text>
<path d="M382.40,89.88 H385.40" stroke="#48488e" stroke-width="0.9"/>
<text x="382.30" y="91.98" font-size="5.8" font-weight="normal" fill="#0a0a0a" text-anchor="end" stroke="#0a0a0a" stroke-width="0.15">50</text>
<path d="M382.40,73.76 H385.40" stroke="#48488e" stroke-width="0.9"/>
<text x="382.30" y="75.86" font-size="5.8" font-weight="normal" fill="#0a0a0a" text-anchor="end" stroke="#0a0a0a" stroke-width="0.15">100</text>
<path d="M382.40,57.64 H385.40" stroke="#48488e" stroke-width="0.9"/>
<text x="382.30" y="59.74" font-size="5.8" font-weight="normal" fill="#0a0a0a" text-anchor="end" stroke="#0a0a0a" stroke-width="0.15">150</text>
<path d="M382.40,41.52 H385.40" stroke="#48488e" stroke-width="0.9"/>
<text x="382.30" y="43.62" font-size="5.8" font-weight="normal" fill="#0a0a0a" text-anchor="end" stroke="#0a0a0a" stroke-width="0.15">200</text>
<path d="M382.40,25.40 H385.40" stroke="#48488e" stroke-width="0.9"/>
<text x="382.30" y="27.50" font-size="5.8" font-weight="normal" fill="#0a0a0a" text-anchor="end" stroke="#0a0a0a" stroke-width="0.15">250</text>
<path d="M385.40,106.00 v3.0" stroke="#48488e" stroke-width="0.9"/>
<text x="385.40" y="114.90" font-size="5.8" font-weight="normal" fill="#0a0a0a" text-anchor="middle" stroke="#0a0a0a" stroke-width="0.15">0</text>
<path d="M415.65,106.00 v3.0" stroke="#48488e" stroke-width="0.9"/>
<text x="415.65" y="114.90" font-size="5.8" font-weight="normal" fill="#0a0a0a" text-anchor="middle" stroke="#0a0a0a" stroke-width="0.15">5</text>
<path d="M445.90,106.00 v3.0" stroke="#48488e" stroke-width="0.9"/>
<text x="445.90" y="114.90" font-size="5.8" font-weight="normal" fill="#0a0a0a" text-anchor="middle" stroke="#0a0a0a" stroke-width="0.15">10</text>
<path d="M476.15,106.00 v3.0" stroke="#48488e" stroke-width="0.9"/>
<text x="476.15" y="114.90" font-size="5.8" font-weight="normal" fill="#0a0a0a" text-anchor="middle" stroke="#0a0a0a" stroke-width="0.15">15</text>
<path d="M506.40,106.00 v3.0" stroke="#48488e" stroke-width="0.9"/>
<text x="506.40" y="114.90" font-size="5.8" font-weight="normal" fill="#0a0a0a" text-anchor="middle" stroke="#0a0a0a" stroke-width="0.15">20</text>
<text transform="translate(362.70,66.20) rotate(-90)" font-size="8.45" fill="#141414" stroke="#141414" stroke-width="0.15" text-anchor="middle">Tumor volume (mm<tspan font-size="5.4" dy="-3.2">3</tspan><tspan dy="3.2">)</tspan></text>
<text x="445.90" y="125.30" font-size="6.4" font-weight="bold" fill="#111" text-anchor="middle" >Days</text>
<path d="M388.00,27.40 h10.4" stroke="#de388c" stroke-width="1.2"/>
<circle cx="393.20" cy="27.40" r="1.3" fill="#de388c"/>
<text x="402.20" y="29.70" font-size="6.4" font-weight="bold" fill="#26266e" text-anchor="start" >Control</text>
<path d="M388.00,36.90 h10.4" stroke="#eca124" stroke-width="1.2"/>
<rect x="391.80" y="35.60" width="2.8" height="2.6" fill="#eca124"/>
<text x="402.20" y="39.20" font-size="6.4" font-weight="bold" fill="#26266e" text-anchor="start" >6-thio-dG 2.5 mg/Kg</text>
<path d="M385.40,86.98 V89.56 M383.70,86.98 h3.4 M383.70,89.56 h3.4" fill="none" stroke="#eca124" stroke-width="0.9"/>
<path d="M403.55,89.40 V92.62 M401.85,89.40 h3.4 M401.85,92.62 h3.4" fill="none" stroke="#eca124" stroke-width="0.9"/>
<path d="M421.70,82.14 V89.88 M420.00,82.14 h3.4 M420.00,89.88 h3.4" fill="none" stroke="#eca124" stroke-width="0.9"/>
<path d="M439.85,84.08 V89.24 M438.15,84.08 h3.4 M438.15,89.24 h3.4" fill="none" stroke="#eca124" stroke-width="0.9"/>
<path d="M458.00,81.82 V89.56 M456.30,81.82 h3.4 M456.30,89.56 h3.4" fill="none" stroke="#eca124" stroke-width="0.9"/>
<path d="M476.15,82.79 V87.95 M474.45,82.79 h3.4 M474.45,87.95 h3.4" fill="none" stroke="#eca124" stroke-width="0.9"/>
<path d="M500.35,78.69 V84.50 M498.65,78.69 h3.4 M498.65,84.50 h3.4" fill="none" stroke="#eca124" stroke-width="0.9"/>
<path d="M385.40,88.27 L403.55,91.01 L421.70,86.01 L439.85,86.66 L458.00,85.69 L476.15,85.37 L500.35,81.59" fill="none" stroke="#eca124" stroke-width="1.5" stroke-linejoin="round"/>
<rect x="383.90" y="86.77" width="3.0" height="3.0" fill="#eca124"/>
<rect x="402.05" y="89.51" width="3.0" height="3.0" fill="#eca124"/>
<rect x="420.20" y="84.51" width="3.0" height="3.0" fill="#eca124"/>
<rect x="438.35" y="85.16" width="3.0" height="3.0" fill="#eca124"/>
<rect x="456.50" y="84.19" width="3.0" height="3.0" fill="#eca124"/>
<rect x="474.65" y="83.87" width="3.0" height="3.0" fill="#eca124"/>
<rect x="498.85" y="80.09" width="3.0" height="3.0" fill="#eca124"/>
<path d="M385.40,84.72 V87.95 M383.70,84.72 h3.4 M383.70,87.95 h3.4" fill="none" stroke="#de388c" stroke-width="0.9"/>
<path d="M403.55,78.60 V80.53 M401.85,78.60 h3.4 M401.85,80.53 h3.4" fill="none" stroke="#de388c" stroke-width="0.9"/>
<path d="M421.70,72.15 V79.89 M420.00,72.15 h3.4 M420.00,79.89 h3.4" fill="none" stroke="#de388c" stroke-width="0.9"/>
<path d="M439.85,68.28 V71.50 M438.15,68.28 h3.4 M438.15,71.50 h3.4" fill="none" stroke="#de388c" stroke-width="0.9"/>
<path d="M458.00,49.26 V64.09 M456.30,49.26 h3.4 M456.30,64.09 h3.4" fill="none" stroke="#de388c" stroke-width="0.9"/>
<path d="M476.15,56.03 V61.83 M474.45,56.03 h3.4 M474.45,61.83 h3.4" fill="none" stroke="#de388c" stroke-width="0.9"/>
<path d="M500.35,29.91 V43.45 M498.65,29.91 h3.4 M498.65,43.45 h3.4" fill="none" stroke="#de388c" stroke-width="0.9"/>
<path d="M385.40,86.33 L403.55,79.56 L421.70,76.02 L439.85,69.89 L458.00,56.67 L476.15,58.93 L500.35,36.68" fill="none" stroke="#de388c" stroke-width="1.5" stroke-linejoin="round"/>
<circle cx="385.40" cy="86.33" r="1.6" fill="#de388c"/>
<circle cx="403.55" cy="79.56" r="1.6" fill="#de388c"/>
<circle cx="421.70" cy="76.02" r="1.6" fill="#de388c"/>
<circle cx="439.85" cy="69.89" r="1.6" fill="#de388c"/>
<circle cx="458.00" cy="56.67" r="1.6" fill="#de388c"/>
<circle cx="476.15" cy="58.93" r="1.6" fill="#de388c"/>
<circle cx="500.35" cy="36.68" r="1.6" fill="#de388c"/>
<path d="M502.55,36.68 H508.00 V81.59 H502.55" fill="none" stroke="#8a8a8a" stroke-width="0.7"/>
<text transform="translate(510.30,59.14) rotate(90)" font-size="6.7" fill="#141414" stroke="#141414" stroke-width="0.12" text-anchor="middle">P &lt; 0.0001</text>
<text x="196.60" y="142.80" font-size="11.9" font-weight="bold" fill="#000" text-anchor="start" >D</text>
<text x="284.40" y="144.40" font-size="7.85" font-weight="bold" fill="#0a0a0a" text-anchor="middle" >15-1761-1-2 Xenografts</text>
<path d="M224.40,155.10 V235.00 H344.90" fill="none" stroke="#48488e" stroke-width="1.15"/>
<path d="M221.40,235.00 H224.40" stroke="#48488e" stroke-width="0.9"/>
<text x="221.30" y="237.10" font-size="5.8" font-weight="normal" fill="#0a0a0a" text-anchor="end" stroke="#0a0a0a" stroke-width="0.15">0</text>
<path d="M221.40,208.53 H224.40" stroke="#48488e" stroke-width="0.9"/>
<text x="221.30" y="210.63" font-size="5.8" font-weight="normal" fill="#0a0a0a" text-anchor="end" stroke="#0a0a0a" stroke-width="0.15">400</text>
<path d="M221.40,182.07 H224.40" stroke="#48488e" stroke-width="0.9"/>
<text x="221.30" y="184.17" font-size="5.8" font-weight="normal" fill="#0a0a0a" text-anchor="end" stroke="#0a0a0a" stroke-width="0.15">800</text>
<path d="M221.40,155.60 H224.40" stroke="#48488e" stroke-width="0.9"/>
<text x="221.30" y="157.70" font-size="5.8" font-weight="normal" fill="#0a0a0a" text-anchor="end" stroke="#0a0a0a" stroke-width="0.15">1,200</text>
<path d="M224.40,235.00 v3.0" stroke="#48488e" stroke-width="0.9"/>
<text x="224.40" y="243.90" font-size="5.8" font-weight="normal" fill="#0a0a0a" text-anchor="middle" stroke="#0a0a0a" stroke-width="0.15">0</text>
<path d="M254.40,235.00 v3.0" stroke="#48488e" stroke-width="0.9"/>
<text x="254.40" y="243.90" font-size="5.8" font-weight="normal" fill="#0a0a0a" text-anchor="middle" stroke="#0a0a0a" stroke-width="0.15">4</text>
<path d="M284.40,235.00 v3.0" stroke="#48488e" stroke-width="0.9"/>
<text x="284.40" y="243.90" font-size="5.8" font-weight="normal" fill="#0a0a0a" text-anchor="middle" stroke="#0a0a0a" stroke-width="0.15">8</text>
<path d="M314.40,235.00 v3.0" stroke="#48488e" stroke-width="0.9"/>
<text x="314.40" y="243.90" font-size="5.8" font-weight="normal" fill="#0a0a0a" text-anchor="middle" stroke="#0a0a0a" stroke-width="0.15">12</text>
<path d="M344.40,235.00 v3.0" stroke="#48488e" stroke-width="0.9"/>
<text x="344.40" y="243.90" font-size="5.8" font-weight="normal" fill="#0a0a0a" text-anchor="middle" stroke="#0a0a0a" stroke-width="0.15">16</text>
<text transform="translate(201.00,192.70) rotate(-90)" font-size="8.45" fill="#141414" stroke="#141414" stroke-width="0.15" text-anchor="middle">Tumor volume (mm<tspan font-size="5.4" dy="-3.2">3</tspan><tspan dy="3.2">)</tspan></text>
<text x="284.40" y="254.30" font-size="6.4" font-weight="bold" fill="#111" text-anchor="middle" >Days</text>
<path d="M227.00,158.00 h10.4" stroke="#de388c" stroke-width="1.2"/>
<circle cx="232.20" cy="158.00" r="1.3" fill="#de388c"/>
<text x="241.20" y="160.30" font-size="6.4" font-weight="bold" fill="#26266e" text-anchor="start" >Control</text>
<path d="M227.00,167.50 h10.4" stroke="#eca124" stroke-width="1.2"/>
<rect x="230.80" y="166.20" width="2.8" height="2.6" fill="#eca124"/>
<text x="241.20" y="169.80" font-size="6.4" font-weight="bold" fill="#26266e" text-anchor="start" >6-thio-dG 2.5 mg/Kg</text>
<path d="M224.40,223.82 V226.20 M222.70,223.82 h3.4 M222.70,226.20 h3.4" fill="none" stroke="#eca124" stroke-width="0.9"/>
<path d="M261.90,220.05 V226.00 M260.20,220.05 h3.4 M260.20,226.00 h3.4" fill="none" stroke="#eca124" stroke-width="0.9"/>
<path d="M284.40,217.13 V221.77 M282.70,217.13 h3.4 M282.70,221.77 h3.4" fill="none" stroke="#eca124" stroke-width="0.9"/>
<path d="M306.90,201.39 V213.83 M305.20,201.39 h3.4 M305.20,213.83 h3.4" fill="none" stroke="#eca124" stroke-width="0.9"/>
<path d="M336.90,177.24 V194.84 M335.20,177.24 h3.4 M335.20,194.84 h3.4" fill="none" stroke="#eca124" stroke-width="0.9"/>
<path d="M224.40,225.01 L261.90,223.02 L284.40,219.45 L306.90,207.61 L336.90,186.04" fill="none" stroke="#eca124" stroke-width="1.5" stroke-linejoin="round"/>
<rect x="222.90" y="223.51" width="3.0" height="3.0" fill="#eca124"/>
<rect x="260.40" y="221.52" width="3.0" height="3.0" fill="#eca124"/>
<rect x="282.90" y="217.95" width="3.0" height="3.0" fill="#eca124"/>
<rect x="305.40" y="206.11" width="3.0" height="3.0" fill="#eca124"/>
<rect x="335.40" y="184.54" width="3.0" height="3.0" fill="#eca124"/>
<path d="M224.40,223.69 V226.33 M222.70,223.69 h3.4 M222.70,226.33 h3.4" fill="none" stroke="#de388c" stroke-width="0.9"/>
<path d="M261.90,210.19 V221.83 M260.20,210.19 h3.4 M260.20,221.83 h3.4" fill="none" stroke="#de388c" stroke-width="0.9"/>
<path d="M284.40,176.38 V210.52 M282.70,176.38 h3.4 M282.70,210.52 h3.4" fill="none" stroke="#de388c" stroke-width="0.9"/>
<path d="M306.90,162.88 V198.34 M305.20,162.88 h3.4 M305.20,198.34 h3.4" fill="none" stroke="#de388c" stroke-width="0.9"/>
<path d="M336.90,159.77 V170.36 M335.20,159.77 h3.4 M335.20,170.36 h3.4" fill="none" stroke="#de388c" stroke-width="0.9"/>
<path d="M224.40,225.01 L261.90,216.01 L284.40,193.45 L306.90,180.61 L336.90,165.06" fill="none" stroke="#de388c" stroke-width="1.5" stroke-linejoin="round"/>
<circle cx="224.40" cy="225.01" r="1.6" fill="#de388c"/>
<circle cx="261.90" cy="216.01" r="1.6" fill="#de388c"/>
<circle cx="284.40" cy="193.45" r="1.6" fill="#de388c"/>
<circle cx="306.90" cy="180.61" r="1.6" fill="#de388c"/>
<circle cx="336.90" cy="165.06" r="1.6" fill="#de388c"/>
<path d="M339.10,165.06 H341.60 V186.04 H339.10" fill="none" stroke="#8a8a8a" stroke-width="0.7"/>
<text transform="translate(344.10,175.55) rotate(90)" font-size="6.7" fill="#141414" stroke="#141414" stroke-width="0.12" text-anchor="middle">P = 0.0354</text>
<text x="354.00" y="142.80" font-size="11.9" font-weight="bold" fill="#000" text-anchor="start" >E</text>
<text x="456.70" y="143.80" font-size="7.85" font-weight="bold" fill="#0a0a0a" text-anchor="middle" >WM4265-2 Xenografts</text>
<path d="M396.40,154.50 V234.60 H517.50" fill="none" stroke="#48488e" stroke-width="1.15"/>
<path d="M393.40,234.60 H396.40" stroke="#48488e" stroke-width="0.9"/>
<text x="393.30" y="236.70" font-size="5.8" font-weight="normal" fill="#0a0a0a" text-anchor="end" stroke="#0a0a0a" stroke-width="0.15">0</text>
<path d="M393.40,218.68 H396.40" stroke="#48488e" stroke-width="0.9"/>
<text x="393.30" y="220.78" font-size="5.8" font-weight="normal" fill="#0a0a0a" text-anchor="end" stroke="#0a0a0a" stroke-width="0.15">50</text>
<path d="M393.40,202.76 H396.40" stroke="#48488e" stroke-width="0.9"/>
<text x="393.30" y="204.86" font-size="5.8" font-weight="normal" fill="#0a0a0a" text-anchor="end" stroke="#0a0a0a" stroke-width="0.15">100</text>
<path d="M393.40,186.84 H396.40" stroke="#48488e" stroke-width="0.9"/>
<text x="393.30" y="188.94" font-size="5.8" font-weight="normal" fill="#0a0a0a" text-anchor="end" stroke="#0a0a0a" stroke-width="0.15">150</text>
<path d="M393.40,170.92 H396.40" stroke="#48488e" stroke-width="0.9"/>
<text x="393.30" y="173.02" font-size="5.8" font-weight="normal" fill="#0a0a0a" text-anchor="end" stroke="#0a0a0a" stroke-width="0.15">200</text>
<path d="M393.40,155.00 H396.40" stroke="#48488e" stroke-width="0.9"/>
<text x="393.30" y="157.10" font-size="5.8" font-weight="normal" fill="#0a0a0a" text-anchor="end" stroke="#0a0a0a" stroke-width="0.15">250</text>
<path d="M396.40,234.60 v3.0" stroke="#48488e" stroke-width="0.9"/>
<text x="396.40" y="243.50" font-size="5.8" font-weight="normal" fill="#0a0a0a" text-anchor="middle" stroke="#0a0a0a" stroke-width="0.15">0</text>
<path d="M420.52,234.60 v3.0" stroke="#48488e" stroke-width="0.9"/>
<text x="420.52" y="243.50" font-size="5.8" font-weight="normal" fill="#0a0a0a" text-anchor="middle" stroke="#0a0a0a" stroke-width="0.15">5</text>
<path d="M444.64,234.60 v3.0" stroke="#48488e" stroke-width="0.9"/>
<text x="444.64" y="243.50" font-size="5.8" font-weight="normal" fill="#0a0a0a" text-anchor="middle" stroke="#0a0a0a" stroke-width="0.15">10</text>
<path d="M468.76,234.60 v3.0" stroke="#48488e" stroke-width="0.9"/>
<text x="468.76" y="243.50" font-size="5.8" font-weight="normal" fill="#0a0a0a" text-anchor="middle" stroke="#0a0a0a" stroke-width="0.15">15</text>
<path d="M492.88,234.60 v3.0" stroke="#48488e" stroke-width="0.9"/>
<text x="492.88" y="243.50" font-size="5.8" font-weight="normal" fill="#0a0a0a" text-anchor="middle" stroke="#0a0a0a" stroke-width="0.15">20</text>
<path d="M517.00,234.60 v3.0" stroke="#48488e" stroke-width="0.9"/>
<text x="517.00" y="243.50" font-size="5.8" font-weight="normal" fill="#0a0a0a" text-anchor="middle" stroke="#0a0a0a" stroke-width="0.15">25</text>
<text transform="translate(374.60,193.80) rotate(-90)" font-size="8.45" fill="#141414" stroke="#141414" stroke-width="0.15" text-anchor="middle">Tumor volume (mm<tspan font-size="5.4" dy="-3.2">3</tspan><tspan dy="3.2">)</tspan></text>
<text x="456.70" y="254.30" font-size="6.4" font-weight="bold" fill="#111" text-anchor="middle" >Days</text>
<path d="M398.60,156.40 h10.4" stroke="#de388c" stroke-width="1.2"/>
<circle cx="403.80" cy="156.40" r="1.3" fill="#de388c"/>
<text x="412.80" y="158.70" font-size="6.4" font-weight="bold" fill="#26266e" text-anchor="start" >Control</text>
<path d="M398.60,165.90 h10.4" stroke="#eca124" stroke-width="1.2"/>
<rect x="402.40" y="164.60" width="2.8" height="2.6" fill="#eca124"/>
<text x="412.80" y="168.20" font-size="6.4" font-weight="bold" fill="#26266e" text-anchor="start" >6-thio-dG 2.5 mg/Kg</text>
<path d="M396.40,209.13 V214.22 M394.70,209.13 h3.4 M394.70,214.22 h3.4" fill="none" stroke="#eca124" stroke-width="0.9"/>
<path d="M410.87,215.50 V219.32 M409.17,215.50 h3.4 M409.17,219.32 h3.4" fill="none" stroke="#eca124" stroke-width="0.9"/>
<path d="M425.34,215.81 V218.36 M423.64,215.81 h3.4 M423.64,218.36 h3.4" fill="none" stroke="#eca124" stroke-width="0.9"/>
<path d="M439.82,208.81 V219.00 M438.12,208.81 h3.4 M438.12,219.00 h3.4" fill="none" stroke="#eca124" stroke-width="0.9"/>
<path d="M459.11,209.76 V214.86 M457.41,209.76 h3.4 M457.41,214.86 h3.4" fill="none" stroke="#eca124" stroke-width="0.9"/>
<path d="M468.76,203.84 V208.94 M467.06,203.84 h3.4 M467.06,208.94 h3.4" fill="none" stroke="#eca124" stroke-width="0.9"/>
<path d="M483.23,208.17 V210.08 M481.53,208.17 h3.4 M481.53,210.08 h3.4" fill="none" stroke="#eca124" stroke-width="0.9"/>
<path d="M497.70,208.81 V214.54 M496.00,208.81 h3.4 M496.00,214.54 h3.4" fill="none" stroke="#eca124" stroke-width="0.9"/>
<path d="M396.40,211.68 L410.87,217.41 L425.34,217.09 L439.82,213.90 L459.11,212.31 L468.76,206.39 L483.23,209.13 L497.70,211.68" fill="none" stroke="#eca124" stroke-width="1.5" stroke-linejoin="round"/>
<rect x="394.90" y="210.18" width="3.0" height="3.0" fill="#eca124"/>
<rect x="409.37" y="215.91" width="3.0" height="3.0" fill="#eca124"/>
<rect x="423.84" y="215.59" width="3.0" height="3.0" fill="#eca124"/>
<rect x="438.32" y="212.40" width="3.0" height="3.0" fill="#eca124"/>
<rect x="457.61" y="210.81" width="3.0" height="3.0" fill="#eca124"/>
<rect x="467.26" y="204.89" width="3.0" height="3.0" fill="#eca124"/>
<rect x="481.73" y="207.63" width="3.0" height="3.0" fill="#eca124"/>
<rect x="496.20" y="210.18" width="3.0" height="3.0" fill="#eca124"/>
<path d="M396.40,209.45 V213.27 M394.70,209.45 h3.4 M394.70,213.27 h3.4" fill="none" stroke="#de388c" stroke-width="0.9"/>
<path d="M410.87,201.49 V204.67 M409.17,201.49 h3.4 M409.17,204.67 h3.4" fill="none" stroke="#de388c" stroke-width="0.9"/>
<path d="M425.34,196.07 V206.90 M423.64,196.07 h3.4 M423.64,206.90 h3.4" fill="none" stroke="#de388c" stroke-width="0.9"/>
<path d="M439.82,193.84 V202.12 M438.12,193.84 h3.4 M438.12,202.12 h3.4" fill="none" stroke="#de388c" stroke-width="0.9"/>
<path d="M459.11,186.20 V191.30 M457.41,186.20 h3.4 M457.41,191.30 h3.4" fill="none" stroke="#de388c" stroke-width="0.9"/>
<path d="M468.76,182.70 V188.43 M467.06,182.70 h3.4 M467.06,188.43 h3.4" fill="none" stroke="#de388c" stroke-width="0.9"/>
<path d="M483.23,169.96 V185.88 M481.53,169.96 h3.4 M481.53,185.88 h3.4" fill="none" stroke="#de388c" stroke-width="0.9"/>
<path d="M497.70,164.87 V181.43 M496.00,164.87 h3.4 M496.00,181.43 h3.4" fill="none" stroke="#de388c" stroke-width="0.9"/>
<path d="M396.40,211.36 L410.87,203.08 L425.34,201.49 L439.82,197.98 L459.11,188.75 L468.76,185.57 L483.23,177.92 L497.70,173.15" fill="none" stroke="#de388c" stroke-width="1.5" stroke-linejoin="round"/>
<circle cx="396.40" cy="211.36" r="1.6" fill="#de388c"/>
<circle cx="410.87" cy="203.08" r="1.6" fill="#de388c"/>
<circle cx="425.34" cy="201.49" r="1.6" fill="#de388c"/>
<circle cx="439.82" cy="197.98" r="1.6" fill="#de388c"/>
<circle cx="459.11" cy="188.75" r="1.6" fill="#de388c"/>
<circle cx="468.76" cy="185.57" r="1.6" fill="#de388c"/>
<circle cx="483.23" cy="177.92" r="1.6" fill="#de388c"/>
<circle cx="497.70" cy="173.15" r="1.6" fill="#de388c"/>
<path d="M499.90,173.15 H503.40 V211.68 H499.90" fill="none" stroke="#7f8ca6" stroke-width="0.7"/>
<text transform="translate(506.70,192.41) rotate(90)" font-size="6.7" fill="#141414" stroke="#141414" stroke-width="0.12" text-anchor="middle">P &lt; 0.0001</text>
<text x="197.60" y="267.50" font-size="11.9" font-weight="bold" fill="#000" text-anchor="start" >F</text>
<text x="289.00" y="272.80" font-size="7.85" font-weight="bold" fill="#0a0a0a" text-anchor="middle" >499 Xenografts</text>
<path d="M229.00,282.90 V363.60 H349.50" fill="none" stroke="#48488e" stroke-width="1.15"/>
<path d="M226.00,363.60 H229.00" stroke="#48488e" stroke-width="0.9"/>
<text x="225.90" y="365.70" font-size="5.8" font-weight="normal" fill="#0a0a0a" text-anchor="end" stroke="#0a0a0a" stroke-width="0.15">0</text>
<path d="M226.00,347.56 H229.00" stroke="#48488e" stroke-width="0.9"/>
<text x="225.90" y="349.66" font-size="5.8" font-weight="normal" fill="#0a0a0a" text-anchor="end" stroke="#0a0a0a" stroke-width="0.15">1,000</text>
<path d="M226.00,331.52 H229.00" stroke="#48488e" stroke-width="0.9"/>
<text x="225.90" y="333.62" font-size="5.8" font-weight="normal" fill="#0a0a0a" text-anchor="end" stroke="#0a0a0a" stroke-width="0.15">2,000</text>
<path d="M226.00,315.48 H229.00" stroke="#48488e" stroke-width="0.9"/>
<text x="225.90" y="317.58" font-size="5.8" font-weight="normal" fill="#0a0a0a" text-anchor="end" stroke="#0a0a0a" stroke-width="0.15">3,000</text>
<path d="M226.00,299.44 H229.00" stroke="#48488e" stroke-width="0.9"/>
<text x="225.90" y="301.54" font-size="5.8" font-weight="normal" fill="#0a0a0a" text-anchor="end" stroke="#0a0a0a" stroke-width="0.15">4,000</text>
<path d="M226.00,283.40 H229.00" stroke="#48488e" stroke-width="0.9"/>
<text x="225.90" y="285.50" font-size="5.8" font-weight="normal" fill="#0a0a0a" text-anchor="end" stroke="#0a0a0a" stroke-width="0.15">5,000</text>
<path d="M229.00,363.60 v3.0" stroke="#48488e" stroke-width="0.9"/>
<text x="229.00" y="372.50" font-size="5.8" font-weight="normal" fill="#0a0a0a" text-anchor="middle" stroke="#0a0a0a" stroke-width="0.15">0</text>
<path d="M269.00,363.60 v3.0" stroke="#48488e" stroke-width="0.9"/>
<text x="269.00" y="372.50" font-size="5.8" font-weight="normal" fill="#0a0a0a" text-anchor="middle" stroke="#0a0a0a" stroke-width="0.15">5</text>
<path d="M309.00,363.60 v3.0" stroke="#48488e" stroke-width="0.9"/>
<text x="309.00" y="372.50" font-size="5.8" font-weight="normal" fill="#0a0a0a" text-anchor="middle" stroke="#0a0a0a" stroke-width="0.15">10</text>
<path d="M349.00,363.60 v3.0" stroke="#48488e" stroke-width="0.9"/>
<text x="349.00" y="372.50" font-size="5.8" font-weight="normal" fill="#0a0a0a" text-anchor="middle" stroke="#0a0a0a" stroke-width="0.15">15</text>
<text transform="translate(204.20,321.60) rotate(-90)" font-size="8.45" fill="#141414" stroke="#141414" stroke-width="0.15" text-anchor="middle">Tumor volume (mm<tspan font-size="5.4" dy="-3.2">3</tspan><tspan dy="3.2">)</tspan></text>
<text x="289.00" y="383.70" font-size="6.4" font-weight="bold" fill="#111" text-anchor="middle" >Days</text>
<path d="M231.00,285.00 h10.4" stroke="#de388c" stroke-width="1.2"/>
<circle cx="236.20" cy="285.00" r="1.3" fill="#de388c"/>
<text x="245.20" y="287.30" font-size="6.4" font-weight="bold" fill="#26266e" text-anchor="start" >Control</text>
<path d="M231.00,294.50 h10.4" stroke="#eca124" stroke-width="1.2"/>
<rect x="234.80" y="293.20" width="2.8" height="2.6" fill="#eca124"/>
<text x="245.20" y="296.80" font-size="6.4" font-weight="bold" fill="#26266e" text-anchor="start" >6-thio-dG 5 mg/Kg</text>
<path d="M317.00,357.44 V359.37 M315.30,357.44 h3.4 M315.30,359.37 h3.4" fill="none" stroke="#eca124" stroke-width="0.9"/>
<path d="M333.00,342.99 V351.01 M331.30,342.99 h3.4 M331.30,351.01 h3.4" fill="none" stroke="#eca124" stroke-width="0.9"/>
<path d="M229.00,362.64 L261.00,362.61 L293.00,362.54 L317.00,358.40 L333.00,347.00" fill="none" stroke="#eca124" stroke-width="1.5" stroke-linejoin="round"/>
<rect x="227.50" y="361.14" width="3.0" height="3.0" fill="#eca124"/>
<rect x="259.50" y="361.11" width="3.0" height="3.0" fill="#eca124"/>
<rect x="291.50" y="361.04" width="3.0" height="3.0" fill="#eca124"/>
<rect x="315.50" y="356.90" width="3.0" height="3.0" fill="#eca124"/>
<rect x="331.50" y="345.50" width="3.0" height="3.0" fill="#eca124"/>
<path d="M261.00,358.03 V359.96 M259.30,358.03 h3.4 M259.30,359.96 h3.4" fill="none" stroke="#de388c" stroke-width="0.9"/>
<path d="M293.00,350.35 V356.45 M291.30,350.35 h3.4 M291.30,356.45 h3.4" fill="none" stroke="#de388c" stroke-width="0.9"/>
<path d="M317.00,329.55 V343.66 M315.30,329.55 h3.4 M315.30,343.66 h3.4" fill="none" stroke="#de388c" stroke-width="0.9"/>
<path d="M333.00,297.80 V325.39 M331.30,297.80 h3.4 M331.30,325.39 h3.4" fill="none" stroke="#de388c" stroke-width="0.9"/>
<path d="M229.00,362.16 L261.00,359.00 L293.00,353.40 L317.00,336.60 L333.00,311.60" fill="none" stroke="#de388c" stroke-width="1.5" stroke-linejoin="round"/>
<circle cx="229.00" cy="362.16" r="1.6" fill="#de388c"/>
<circle cx="261.00" cy="359.00" r="1.6" fill="#de388c"/>
<circle cx="293.00" cy="353.40" r="1.6" fill="#de388c"/>
<circle cx="317.00" cy="336.60" r="1.6" fill="#de388c"/>
<circle cx="333.00" cy="311.60" r="1.6" fill="#de388c"/>
<path d="M335.20,311.60 H339.00 V347.00 H335.20" fill="none" stroke="#8a8a8a" stroke-width="0.7"/>
<text transform="translate(342.90,329.30) rotate(90)" font-size="7.5" fill="#141414" stroke="#141414" stroke-width="0.12" text-anchor="middle">P = 0.0044</text>
<text x="353.20" y="268.00" font-size="11.9" font-weight="bold" fill="#000" text-anchor="start" >G</text>
<text x="448.40" y="272.80" font-size="7.85" font-weight="bold" fill="#0a0a0a" text-anchor="middle" >G43 Xenografts</text>
<path d="M388.40,284.10 V364.00 H508.90" fill="none" stroke="#48488e" stroke-width="1.15"/>
<path d="M385.40,364.00 H388.40" stroke="#48488e" stroke-width="0.9"/>
<text x="385.30" y="366.10" font-size="5.8" font-weight="normal" fill="#0a0a0a" text-anchor="end" stroke="#0a0a0a" stroke-width="0.15">0</text>
<path d="M385.40,337.53 H388.40" stroke="#48488e" stroke-width="0.9"/>
<text x="385.30" y="339.63" font-size="5.8" font-weight="normal" fill="#0a0a0a" text-anchor="end" stroke="#0a0a0a" stroke-width="0.15">400</text>
<path d="M385.40,311.07 H388.40" stroke="#48488e" stroke-width="0.9"/>
<text x="385.30" y="313.17" font-size="5.8" font-weight="normal" fill="#0a0a0a" text-anchor="end" stroke="#0a0a0a" stroke-width="0.15">800</text>
<path d="M385.40,284.60 H388.40" stroke="#48488e" stroke-width="0.9"/>
<text x="385.30" y="286.70" font-size="5.8" font-weight="normal" fill="#0a0a0a" text-anchor="end" stroke="#0a0a0a" stroke-width="0.15">1,200</text>
<path d="M388.40,364.00 v3.0" stroke="#48488e" stroke-width="0.9"/>
<text x="388.40" y="372.90" font-size="5.8" font-weight="normal" fill="#0a0a0a" text-anchor="middle" stroke="#0a0a0a" stroke-width="0.15">0</text>
<path d="M418.40,364.00 v3.0" stroke="#48488e" stroke-width="0.9"/>
<text x="418.40" y="372.90" font-size="5.8" font-weight="normal" fill="#0a0a0a" text-anchor="middle" stroke="#0a0a0a" stroke-width="0.15">4</text>
<path d="M448.40,364.00 v3.0" stroke="#48488e" stroke-width="0.9"/>
<text x="448.40" y="372.90" font-size="5.8" font-weight="normal" fill="#0a0a0a" text-anchor="middle" stroke="#0a0a0a" stroke-width="0.15">8</text>
<path d="M478.40,364.00 v3.0" stroke="#48488e" stroke-width="0.9"/>
<text x="478.40" y="372.90" font-size="5.8" font-weight="normal" fill="#0a0a0a" text-anchor="middle" stroke="#0a0a0a" stroke-width="0.15">12</text>
<path d="M508.40,364.00 v3.0" stroke="#48488e" stroke-width="0.9"/>
<text x="508.40" y="372.90" font-size="5.8" font-weight="normal" fill="#0a0a0a" text-anchor="middle" stroke="#0a0a0a" stroke-width="0.15">16</text>
<text transform="translate(365.30,322.80) rotate(-90)" font-size="8.45" fill="#141414" stroke="#141414" stroke-width="0.15" text-anchor="middle">Tumor volume (mm<tspan font-size="5.4" dy="-3.2">3</tspan><tspan dy="3.2">)</tspan></text>
<text x="448.40" y="383.70" font-size="6.4" font-weight="bold" fill="#111" text-anchor="middle" >Days</text>
<path d="M390.80,285.00 h10.4" stroke="#de388c" stroke-width="1.2"/>
<circle cx="396.00" cy="285.00" r="1.3" fill="#de388c"/>
<text x="405.00" y="287.30" font-size="6.4" font-weight="bold" fill="#26266e" text-anchor="start" >Control</text>
<path d="M390.80,294.50 h10.4" stroke="#eca124" stroke-width="1.2"/>
<rect x="394.60" y="293.20" width="2.8" height="2.6" fill="#eca124"/>
<text x="405.00" y="296.80" font-size="6.4" font-weight="bold" fill="#26266e" text-anchor="start" >6-thio-dG 2.5 mg/Kg</text>
<path d="M388.40,356.19 V357.78 M386.70,356.19 h3.4 M386.70,357.78 h3.4" fill="none" stroke="#eca124" stroke-width="0.9"/>
<path d="M410.90,352.55 V354.67 M409.20,352.55 h3.4 M409.20,354.67 h3.4" fill="none" stroke="#eca124" stroke-width="0.9"/>
<path d="M433.40,348.98 V354.27 M431.70,348.98 h3.4 M431.70,354.27 h3.4" fill="none" stroke="#eca124" stroke-width="0.9"/>
<path d="M455.90,346.60 V350.57 M454.20,346.60 h3.4 M454.20,350.57 h3.4" fill="none" stroke="#eca124" stroke-width="0.9"/>
<path d="M485.90,343.55 V345.67 M484.20,343.55 h3.4 M484.20,345.67 h3.4" fill="none" stroke="#eca124" stroke-width="0.9"/>
<path d="M500.90,336.61 V345.34 M499.20,336.61 h3.4 M499.20,345.34 h3.4" fill="none" stroke="#eca124" stroke-width="0.9"/>
<path d="M388.40,356.99 L410.90,353.61 L433.40,351.63 L455.90,348.58 L485.90,344.61 L500.90,340.97" fill="none" stroke="#eca124" stroke-width="1.5" stroke-linejoin="round"/>
<rect x="386.90" y="355.49" width="3.0" height="3.0" fill="#eca124"/>
<rect x="409.40" y="352.11" width="3.0" height="3.0" fill="#eca124"/>
<rect x="431.90" y="350.13" width="3.0" height="3.0" fill="#eca124"/>
<rect x="454.40" y="347.08" width="3.0" height="3.0" fill="#eca124"/>
<rect x="484.40" y="343.11" width="3.0" height="3.0" fill="#eca124"/>
<rect x="499.40" y="339.47" width="3.0" height="3.0" fill="#eca124"/>
<path d="M388.40,355.20 V356.79 M386.70,355.20 h3.4 M386.70,356.79 h3.4" fill="none" stroke="#de388c" stroke-width="0.9"/>
<path d="M410.90,346.07 V347.92 M409.20,346.07 h3.4 M409.20,347.92 h3.4" fill="none" stroke="#de388c" stroke-width="0.9"/>
<path d="M433.40,342.56 V346.27 M431.70,342.56 h3.4 M431.70,346.27 h3.4" fill="none" stroke="#de388c" stroke-width="0.9"/>
<path d="M455.90,328.34 V333.63 M454.20,328.34 h3.4 M454.20,333.63 h3.4" fill="none" stroke="#de388c" stroke-width="0.9"/>
<path d="M485.90,301.14 V317.68 M484.20,301.14 h3.4 M484.20,317.68 h3.4" fill="none" stroke="#de388c" stroke-width="0.9"/>
<path d="M500.90,299.42 V307.36 M499.20,299.42 h3.4 M499.20,307.36 h3.4" fill="none" stroke="#de388c" stroke-width="0.9"/>
<path d="M388.40,355.99 L410.90,347.00 L433.40,344.41 L455.90,330.98 L485.90,309.41 L500.90,303.39" fill="none" stroke="#de388c" stroke-width="1.5" stroke-linejoin="round"/>
<circle cx="388.40" cy="355.99" r="1.6" fill="#de388c"/>
<circle cx="410.90" cy="347.00" r="1.6" fill="#de388c"/>
<circle cx="433.40" cy="344.41" r="1.6" fill="#de388c"/>
<circle cx="455.90" cy="330.98" r="1.6" fill="#de388c"/>
<circle cx="485.90" cy="309.41" r="1.6" fill="#de388c"/>
<circle cx="500.90" cy="303.39" r="1.6" fill="#de388c"/>
<path d="M503.10,303.39 H507.00 V340.97 H503.10" fill="none" stroke="#4f9a9c" stroke-width="0.7"/>
<text transform="translate(510.70,322.18) rotate(90)" font-size="6.7" fill="#141414" stroke="#141414" stroke-width="0.12" text-anchor="middle">P &lt; 0.0001</text>
<text x="0.00" y="399.00" font-size="12.0" font-weight="bold" fill="#000" text-anchor="start" >H</text>
<text x="73.8" y="409.0" font-size="8.45" font-weight="bold" fill="#111" text-anchor="middle">13-456-5-3 (Cell lines)</text>
<path d="M30.5,410.3H117" stroke="#111" stroke-width="0.7"/>
<g shape-rendering="crispEdges">
<rect x="30.70" y="415.70" width="21.43" height="8.21" fill="#d8d8f8"/>
<rect x="52.08" y="415.70" width="21.43" height="8.21" fill="#f01818"/>
<rect x="73.45" y="415.70" width="21.43" height="8.21" fill="#4848e8"/>
<rect x="94.83" y="415.70" width="21.43" height="8.21" fill="#dcdcf8"/>
<rect x="30.70" y="423.86" width="21.43" height="8.21" fill="#ffc0c0"/>
<rect x="52.08" y="423.86" width="21.43" height="8.21" fill="#f82828"/>
<rect x="73.45" y="423.86" width="21.43" height="8.21" fill="#0808f0"/>
<rect x="94.83" y="423.86" width="21.43" height="8.21" fill="#d8d8f8"/>
<rect x="30.70" y="432.01" width="21.43" height="8.21" fill="#ffd8d8"/>
<rect x="52.08" y="432.01" width="21.43" height="8.21" fill="#f80808"/>
<rect x="73.45" y="432.01" width="21.43" height="8.21" fill="#2828f0"/>
<rect x="94.83" y="432.01" width="21.43" height="8.21" fill="#b8b8f8"/>
<rect x="30.70" y="440.17" width="21.43" height="8.21" fill="#f82020"/>
<rect x="52.08" y="440.17" width="21.43" height="8.21" fill="#ff9090"/>
<rect x="73.45" y="440.17" width="21.43" height="8.21" fill="#0000f8"/>
<rect x="94.83" y="440.17" width="21.43" height="8.21" fill="#b0b0f8"/>
<rect x="30.70" y="448.33" width="21.43" height="8.21" fill="#f83838"/>
<rect x="52.08" y="448.33" width="21.43" height="8.21" fill="#ff9898"/>
<rect x="73.45" y="448.33" width="21.43" height="8.21" fill="#0808f0"/>
<rect x="94.83" y="448.33" width="21.43" height="8.21" fill="#d0d0f8"/>
<rect x="30.70" y="456.48" width="21.43" height="8.21" fill="#f84040"/>
<rect x="52.08" y="456.48" width="21.43" height="8.21" fill="#ff6868"/>
<rect x="73.45" y="456.48" width="21.43" height="8.21" fill="#2020f0"/>
<rect x="94.83" y="456.48" width="21.43" height="8.21" fill="#9898f8"/>
<rect x="30.70" y="464.64" width="21.43" height="8.21" fill="#ff6060"/>
<rect x="52.08" y="464.64" width="21.43" height="8.21" fill="#f84040"/>
<rect x="73.45" y="464.64" width="21.43" height="8.21" fill="#2020f0"/>
<rect x="94.83" y="464.64" width="21.43" height="8.21" fill="#9898f8"/>
<rect x="30.70" y="472.80" width="21.43" height="8.21" fill="#f80000"/>
<rect x="52.08" y="472.80" width="21.43" height="8.21" fill="#ffb8b8"/>
<rect x="73.45" y="472.80" width="21.43" height="8.21" fill="#3838f0"/>
<rect x="94.83" y="472.80" width="21.43" height="8.21" fill="#6060f0"/>
<rect x="30.70" y="480.95" width="21.43" height="8.21" fill="#f82020"/>
<rect x="52.08" y="480.95" width="21.43" height="8.21" fill="#ff8888"/>
<rect x="73.45" y="480.95" width="21.43" height="8.21" fill="#6868f0"/>
<rect x="94.83" y="480.95" width="21.43" height="8.21" fill="#4848f0"/>
<rect x="30.70" y="489.11" width="21.43" height="8.21" fill="#f84040"/>
<rect x="52.08" y="489.11" width="21.43" height="8.21" fill="#ff6868"/>
<rect x="73.45" y="489.11" width="21.43" height="8.21" fill="#6868f0"/>
<rect x="94.83" y="489.11" width="21.43" height="8.21" fill="#5050f0"/>
<rect x="30.70" y="497.27" width="21.43" height="8.21" fill="#f84040"/>
<rect x="52.08" y="497.27" width="21.43" height="8.21" fill="#ff6868"/>
<rect x="73.45" y="497.27" width="21.43" height="8.21" fill="#4040f0"/>
<rect x="94.83" y="497.27" width="21.43" height="8.21" fill="#6060f0"/>
<rect x="30.70" y="505.42" width="21.43" height="8.21" fill="#f84040"/>
<rect x="52.08" y="505.42" width="21.43" height="8.21" fill="#ff6868"/>
<rect x="73.45" y="505.42" width="21.43" height="8.21" fill="#4848f0"/>
<rect x="94.83" y="505.42" width="21.43" height="8.21" fill="#6060f0"/>
<rect x="30.70" y="513.58" width="21.43" height="8.21" fill="#f84040"/>
<rect x="52.08" y="513.58" width="21.43" height="8.21" fill="#ff6868"/>
<rect x="73.45" y="513.58" width="21.43" height="8.21" fill="#4848f0"/>
<rect x="94.83" y="513.58" width="21.43" height="8.21" fill="#6060f0"/>
<rect x="30.70" y="521.74" width="21.43" height="8.21" fill="#f84040"/>
<rect x="52.08" y="521.74" width="21.43" height="8.21" fill="#ff6868"/>
<rect x="73.45" y="521.74" width="21.43" height="8.21" fill="#4040f0"/>
<rect x="94.83" y="521.74" width="21.43" height="8.21" fill="#5858f0"/>
<rect x="30.70" y="529.89" width="21.43" height="8.21" fill="#f83838"/>
<rect x="52.08" y="529.89" width="21.43" height="8.21" fill="#ff9898"/>
<rect x="73.45" y="529.89" width="21.43" height="8.21" fill="#d8d8f8"/>
<rect x="94.83" y="529.89" width="21.43" height="8.21" fill="#0000f0"/>
<rect x="30.70" y="538.05" width="21.43" height="8.21" fill="#f81818"/>
<rect x="52.08" y="538.05" width="21.43" height="8.21" fill="#ff9090"/>
<rect x="73.45" y="538.05" width="21.43" height="8.21" fill="#6060f0"/>
<rect x="94.83" y="538.05" width="21.43" height="8.21" fill="#1818f0"/>
<rect x="30.70" y="546.21" width="21.43" height="8.21" fill="#f81010"/>
<rect x="52.08" y="546.21" width="21.43" height="8.21" fill="#ff8888"/>
<rect x="73.45" y="546.21" width="21.43" height="8.21" fill="#a0a0f8"/>
<rect x="94.83" y="546.21" width="21.43" height="8.21" fill="#2020f0"/>
<rect x="30.70" y="554.36" width="21.43" height="8.21" fill="#ffa0a0"/>
<rect x="52.08" y="554.36" width="21.43" height="8.21" fill="#f82020"/>
<rect x="73.45" y="554.36" width="21.43" height="8.21" fill="#c0c0f8"/>
<rect x="94.83" y="554.36" width="21.43" height="8.21" fill="#2020f0"/>
<rect x="30.70" y="562.52" width="21.43" height="8.21" fill="#ff9090"/>
<rect x="52.08" y="562.52" width="21.43" height="8.21" fill="#f84040"/>
<rect x="73.45" y="562.52" width="21.43" height="8.21" fill="#b8b8f8"/>
<rect x="94.83" y="562.52" width="21.43" height="8.21" fill="#0000f0"/>
<rect x="30.70" y="570.68" width="21.43" height="8.21" fill="#ff9090"/>
<rect x="52.08" y="570.68" width="21.43" height="8.21" fill="#f82020"/>
<rect x="73.45" y="570.68" width="21.43" height="8.21" fill="#a8a8f8"/>
<rect x="94.83" y="570.68" width="21.43" height="8.21" fill="#1818f0"/>
<rect x="30.70" y="578.83" width="21.43" height="8.21" fill="#ff6868"/>
<rect x="52.08" y="578.83" width="21.43" height="8.21" fill="#f84040"/>
<rect x="73.45" y="578.83" width="21.43" height="8.21" fill="#7070f0"/>
<rect x="94.83" y="578.83" width="21.43" height="8.21" fill="#3030f0"/>
<rect x="30.70" y="586.99" width="21.43" height="8.21" fill="#ff9898"/>
<rect x="52.08" y="586.99" width="21.43" height="8.21" fill="#f82020"/>
<rect x="73.45" y="586.99" width="21.43" height="8.21" fill="#6868f0"/>
<rect x="94.83" y="586.99" width="21.43" height="8.21" fill="#2020f0"/>
<rect x="30.70" y="595.15" width="21.43" height="8.21" fill="#ff7070"/>
<rect x="52.08" y="595.15" width="21.43" height="8.21" fill="#f83838"/>
<rect x="73.45" y="595.15" width="21.43" height="8.21" fill="#a0a0f8"/>
<rect x="94.83" y="595.15" width="21.43" height="8.21" fill="#1818f0"/>
<rect x="30.70" y="603.30" width="21.43" height="8.21" fill="#ff9898"/>
<rect x="52.08" y="603.30" width="21.43" height="8.21" fill="#f81818"/>
<rect x="73.45" y="603.30" width="21.43" height="8.21" fill="#4040f0"/>
<rect x="94.83" y="603.30" width="21.43" height="8.21" fill="#5858f0"/>
<rect x="30.70" y="611.46" width="21.43" height="8.21" fill="#f83838"/>
<rect x="52.08" y="611.46" width="21.43" height="8.21" fill="#f84040"/>
<rect x="73.45" y="611.46" width="21.43" height="8.21" fill="#4848f0"/>
<rect x="94.83" y="611.46" width="21.43" height="8.21" fill="#4040f0"/>
<rect x="30.70" y="619.62" width="21.43" height="8.21" fill="#ff5858"/>
<rect x="52.08" y="619.62" width="21.43" height="8.21" fill="#f84848"/>
<rect x="73.45" y="619.62" width="21.43" height="8.21" fill="#4040f0"/>
<rect x="94.83" y="619.62" width="21.43" height="8.21" fill="#6060f0"/>
<rect x="30.70" y="627.77" width="21.43" height="8.21" fill="#ff5858"/>
<rect x="52.08" y="627.77" width="21.43" height="8.21" fill="#f84848"/>
<rect x="73.45" y="627.77" width="21.43" height="8.21" fill="#5050f0"/>
<rect x="94.83" y="627.77" width="21.43" height="8.21" fill="#5050f0"/>
<rect x="30.70" y="635.93" width="21.43" height="8.21" fill="#ff5858"/>
<rect x="52.08" y="635.93" width="21.43" height="8.21" fill="#f84848"/>
<rect x="73.45" y="635.93" width="21.43" height="8.21" fill="#4040f0"/>
<rect x="94.83" y="635.93" width="21.43" height="8.21" fill="#5858f0"/>
<rect x="30.70" y="644.09" width="21.43" height="8.21" fill="#ff5858"/>
<rect x="52.08" y="644.09" width="21.43" height="8.21" fill="#f84848"/>
<rect x="73.45" y="644.09" width="21.43" height="8.21" fill="#5858f0"/>
<rect x="94.83" y="644.09" width="21.43" height="8.21" fill="#5050f0"/>
<rect x="30.70" y="652.24" width="21.43" height="8.21" fill="#ff5858"/>
<rect x="52.08" y="652.24" width="21.43" height="8.21" fill="#f84848"/>
<rect x="73.45" y="652.24" width="21.43" height="8.21" fill="#3838f0"/>
<rect x="94.83" y="652.24" width="21.43" height="8.21" fill="#6060f0"/>
</g>
<path d="M30.70,423.86H116.20M30.70,432.01H116.20M30.70,440.17H116.20M30.70,448.33H116.20M30.70,456.48H116.20M30.70,464.64H116.20M30.70,472.80H116.20M30.70,480.95H116.20M30.70,489.11H116.20M30.70,497.27H116.20M30.70,505.42H116.20M30.70,513.58H116.20M30.70,521.74H116.20M30.70,529.89H116.20M30.70,538.05H116.20M30.70,546.21H116.20M30.70,554.36H116.20M30.70,562.52H116.20M30.70,570.68H116.20M30.70,578.83H116.20M30.70,586.99H116.20M30.70,595.15H116.20M30.70,603.30H116.20M30.70,611.46H116.20M30.70,619.62H116.20M30.70,627.77H116.20M30.70,635.93H116.20M30.70,644.09H116.20M30.70,652.24H116.20" stroke="#ffffff" stroke-opacity="0.18" stroke-width="0.3" fill="none"/>
<text x="118.00" y="422.26" font-size="6.9" font-weight="normal" fill="#050505" text-anchor="start" stroke="#050505" stroke-width="0.2">Myosin-IIa_pS1943-R-V</text>
<text x="118.00" y="430.42" font-size="6.9" font-weight="normal" fill="#050505" text-anchor="start" stroke="#050505" stroke-width="0.2">Cox-IV-R-V</text>
<text x="118.00" y="438.58" font-size="6.9" font-weight="normal" fill="#050505" text-anchor="start" stroke="#050505" stroke-width="0.2">RPA32_pS4_S8-R-C</text>
<text x="118.00" y="446.73" font-size="6.9" font-weight="normal" fill="#050505" text-anchor="start" stroke="#050505" stroke-width="0.2">Glutaminase-R-C</text>
<text x="118.00" y="454.89" font-size="6.9" font-weight="normal" fill="#050505" text-anchor="start" stroke="#050505" stroke-width="0.2">ARID1A-R-C</text>
<text x="118.00" y="463.05" font-size="6.9" font-weight="normal" fill="#050505" text-anchor="start" stroke="#050505" stroke-width="0.2">BRD4-R-V</text>
<text x="118.00" y="471.20" font-size="6.9" font-weight="normal" fill="#050505" text-anchor="start" stroke="#050505" stroke-width="0.2">PRAS40_pT246-R-V</text>
<text x="118.00" y="479.36" font-size="6.9" font-weight="normal" fill="#050505" text-anchor="start" stroke="#050505" stroke-width="0.2">ATRX-R-C</text>
<text x="118.00" y="487.52" font-size="6.9" font-weight="normal" fill="#050505" text-anchor="start" stroke="#050505" stroke-width="0.2">PKCa-R-V</text>
<text x="118.00" y="495.67" font-size="6.9" font-weight="normal" fill="#050505" text-anchor="start" stroke="#050505" stroke-width="0.2">CD171-M-V</text>
<text x="118.00" y="503.83" font-size="6.9" font-weight="normal" fill="#050505" text-anchor="start" stroke="#050505" stroke-width="0.2">CD44-M-C</text>
<text x="118.00" y="511.99" font-size="6.9" font-weight="normal" fill="#050505" text-anchor="start" stroke="#050505" stroke-width="0.2">p90RSK_pT573-R-C</text>
<text x="118.00" y="520.14" font-size="6.9" font-weight="normal" fill="#050505" text-anchor="start" stroke="#050505" stroke-width="0.2">Stat3_pY705-R-V</text>
<text x="118.00" y="528.30" font-size="6.9" font-weight="normal" fill="#050505" text-anchor="start" stroke="#050505" stroke-width="0.2">b-Actin-R-C</text>
<text x="118.00" y="536.46" font-size="6.9" font-weight="normal" fill="#050505" text-anchor="start" stroke="#050505" stroke-width="0.2">Caveolin-1-R-V</text>
<text x="118.00" y="544.61" font-size="6.9" font-weight="normal" fill="#050505" text-anchor="start" stroke="#050505" stroke-width="0.2">Axl-R-V</text>
<text x="118.00" y="552.77" font-size="6.9" font-weight="normal" fill="#050505" text-anchor="start" stroke="#050505" stroke-width="0.2">ATM-R-V</text>
<text x="118.00" y="560.93" font-size="6.9" font-weight="normal" fill="#050505" text-anchor="start" stroke="#050505" stroke-width="0.2">eIF4G-R-C</text>
<text x="118.00" y="569.08" font-size="6.9" font-weight="normal" fill="#050505" text-anchor="start" stroke="#050505" stroke-width="0.2">Merlin-R-C</text>
<text x="118.00" y="577.24" font-size="6.9" font-weight="normal" fill="#050505" text-anchor="start" stroke="#050505" stroke-width="0.2">S6_pS235_S236-R-V</text>
<text x="118.00" y="585.40" font-size="6.9" font-weight="normal" fill="#050505" text-anchor="start" stroke="#050505" stroke-width="0.2">Notch1-R-V</text>
<text x="118.00" y="593.55" font-size="6.9" font-weight="normal" fill="#050505" text-anchor="start" stroke="#050505" stroke-width="0.2">S6_pS240_S244-R-V</text>
<text x="118.00" y="601.71" font-size="6.9" font-weight="normal" fill="#050505" text-anchor="start" stroke="#050505" stroke-width="0.2">VEGFR-2-R-V</text>
<text x="118.00" y="609.87" font-size="6.9" font-weight="normal" fill="#050505" text-anchor="start" stroke="#050505" stroke-width="0.2">p38_pT180_Y182-R-V</text>
<text x="118.00" y="618.02" font-size="6.9" font-weight="normal" fill="#050505" text-anchor="start" stroke="#050505" stroke-width="0.2">Collagen-VI-R-V</text>
<text x="118.00" y="626.18" font-size="6.9" font-weight="normal" fill="#050505" text-anchor="start" stroke="#050505" stroke-width="0.2">TFRC-R-V</text>
<text x="118.00" y="634.34" font-size="6.9" font-weight="normal" fill="#050505" text-anchor="start" stroke="#050505" stroke-width="0.2">PLK1-R-C</text>
<text x="118.00" y="642.49" font-size="6.9" font-weight="normal" fill="#050505" text-anchor="start" stroke="#050505" stroke-width="0.2">Sox2-R-V</text>
<text x="118.00" y="650.65" font-size="6.9" font-weight="normal" fill="#050505" text-anchor="start" stroke="#050505" stroke-width="0.2">Vimentin-M-C</text>
<text x="118.00" y="658.81" font-size="6.9" font-weight="normal" fill="#050505" text-anchor="start" stroke="#050505" stroke-width="0.2">53BP1-R-V</text>
<path d="M30.40,427.94H25.90V436.09H30.40M30.40,419.78H22.60V432.01H25.90M30.40,444.25H27.90V452.40H30.40M30.40,460.56H28.40V468.72H30.40M27.90,448.33H24.40V464.64H28.40M30.40,476.88H27.90V485.03H30.40M30.40,493.19H29.40V501.34H30.40M30.40,509.50H29.60V517.66H30.40M29.60,513.58H29.00V525.81H30.40M29.40,497.27H28.20V519.70H29.00M27.90,480.95H24.00V508.48H28.20M24.40,456.48H21.00V494.72H24.00M30.40,542.13H27.00V550.28H30.40M30.40,533.97H24.00V546.21H27.00M30.40,558.44H28.40V566.60H30.40M28.40,562.52H27.00V574.75H30.40M30.40,582.91H28.40V591.07H30.40M30.40,599.22H27.80V607.38H30.40M28.40,586.99H26.40V603.30H27.80M30.40,623.69H29.60V631.85H30.40M30.40,640.01H29.60V648.16H30.40M29.60,627.77H28.90V644.09H29.60M28.90,635.93H28.20V656.32H30.40M30.40,615.54H26.90V646.13H28.20M26.40,595.15H24.00V630.83H26.90M27.00,568.64H21.00V612.99H24.00M24.00,540.09H17.60V590.81H21.00M21.00,475.60H14.40V565.45H17.60M22.60,425.90H10.00V520.53H14.40" fill="none" stroke="#a4a4a4" stroke-width="0.45"/>
<text x="54.20" y="668.70" font-size="8.6" font-weight="bold" fill="#0a0a0a" text-anchor="middle" >Ctrl</text>
<text x="94.40" y="668.70" font-size="8.6" font-weight="bold" fill="#0a0a0a" text-anchor="middle" >6dG</text>
<defs><linearGradient id="cbar" x1="0" y1="0" x2="0" y2="1"><stop offset="0" stop-color="#e81010"/><stop offset="0.5" stop-color="#ffffff"/><stop offset="1" stop-color="#1010e8"/></linearGradient></defs>
<rect x="193.2" y="415.6" width="2.8" height="40.4" fill="url(#cbar)"/>
<text x="197.60" y="422.60" font-size="4.6" font-weight="normal" fill="#111" text-anchor="start" stroke="#111" stroke-width="0.1">1</text>
<text x="197.60" y="430.60" font-size="4.6" font-weight="normal" fill="#111" text-anchor="start" stroke="#111" stroke-width="0.1">0.5</text>
<text x="197.60" y="438.00" font-size="4.6" font-weight="normal" fill="#111" text-anchor="start" stroke="#111" stroke-width="0.1">0</text>
<text x="197.60" y="445.60" font-size="4.6" font-weight="normal" fill="#111" text-anchor="start" stroke="#111" stroke-width="0.1">-0.5</text>
<text x="197.60" y="453.00" font-size="4.6" font-weight="normal" fill="#111" text-anchor="start" stroke="#111" stroke-width="0.1">-1</text>
<text x="209.90" y="399.00" font-size="12.0" font-weight="bold" fill="#000" text-anchor="start" >I</text>
<text x="275.0" y="409.2" font-size="8.45" font-weight="bold" fill="#111" text-anchor="middle">13-456-5-3 (Xenografts)</text>
<path d="M228,410.5H322" stroke="#111" stroke-width="0.7"/>
<g shape-rendering="crispEdges">
<rect x="238.20" y="432.20" width="9.45" height="9.19" fill="#ffb8b8"/>
<rect x="247.60" y="432.20" width="9.45" height="9.19" fill="#ffc0c0"/>
<rect x="257.00" y="432.20" width="9.45" height="9.19" fill="#ff9898"/>
<rect x="266.40" y="432.20" width="9.45" height="9.19" fill="#ffd0d0"/>
<rect x="275.80" y="432.20" width="9.45" height="9.19" fill="#ffffff"/>
<rect x="285.20" y="432.20" width="9.45" height="9.19" fill="#f85858"/>
<rect x="294.60" y="432.20" width="9.45" height="9.19" fill="#0808e8"/>
<rect x="304.00" y="432.20" width="9.45" height="9.19" fill="#5050f0"/>
<rect x="238.20" y="441.34" width="9.45" height="9.19" fill="#f86060"/>
<rect x="247.60" y="441.34" width="9.45" height="9.19" fill="#ffb0b0"/>
<rect x="257.00" y="441.34" width="9.45" height="9.19" fill="#ffb8b8"/>
<rect x="266.40" y="441.34" width="9.45" height="9.19" fill="#ff9898"/>
<rect x="275.80" y="441.34" width="9.45" height="9.19" fill="#ffffff"/>
<rect x="285.20" y="441.34" width="9.45" height="9.19" fill="#d8d8f8"/>
<rect x="294.60" y="441.34" width="9.45" height="9.19" fill="#1818f0"/>
<rect x="304.00" y="441.34" width="9.45" height="9.19" fill="#3838f0"/>
<rect x="238.20" y="450.49" width="9.45" height="9.19" fill="#ff9090"/>
<rect x="247.60" y="450.49" width="9.45" height="9.19" fill="#ffa0a0"/>
<rect x="257.00" y="450.49" width="9.45" height="9.19" fill="#ffb8b8"/>
<rect x="266.40" y="450.49" width="9.45" height="9.19" fill="#ffb8b8"/>
<rect x="275.80" y="450.49" width="9.45" height="9.19" fill="#ffffff"/>
<rect x="285.20" y="450.49" width="9.45" height="9.19" fill="#ffc0c0"/>
<rect x="294.60" y="450.49" width="9.45" height="9.19" fill="#1010f0"/>
<rect x="304.00" y="450.49" width="9.45" height="9.19" fill="#3030f0"/>
<rect x="238.20" y="459.63" width="9.45" height="9.19" fill="#ffd0d0"/>
<rect x="247.60" y="459.63" width="9.45" height="9.19" fill="#f86868"/>
<rect x="257.00" y="459.63" width="9.45" height="9.19" fill="#f85050"/>
<rect x="266.40" y="459.63" width="9.45" height="9.19" fill="#ffd8d8"/>
<rect x="275.80" y="459.63" width="9.45" height="9.19" fill="#ffffff"/>
<rect x="285.20" y="459.63" width="9.45" height="9.19" fill="#d8d8f8"/>
<rect x="294.60" y="459.63" width="9.45" height="9.19" fill="#3030f0"/>
<rect x="304.00" y="459.63" width="9.45" height="9.19" fill="#3838f0"/>
<rect x="238.20" y="468.78" width="9.45" height="9.19" fill="#ffa0a0"/>
<rect x="247.60" y="468.78" width="9.45" height="9.19" fill="#ffa0a0"/>
<rect x="257.00" y="468.78" width="9.45" height="9.19" fill="#f86060"/>
<rect x="266.40" y="468.78" width="9.45" height="9.19" fill="#ffc0c0"/>
<rect x="275.80" y="468.78" width="9.45" height="9.19" fill="#e0e0f8"/>
<rect x="285.20" y="468.78" width="9.45" height="9.19" fill="#d8d8f8"/>
<rect x="294.60" y="468.78" width="9.45" height="9.19" fill="#0000f0"/>
<rect x="304.00" y="468.78" width="9.45" height="9.19" fill="#5050f0"/>
<rect x="238.20" y="477.92" width="9.45" height="9.19" fill="#ffb0b0"/>
<rect x="247.60" y="477.92" width="9.45" height="9.19" fill="#f87070"/>
<rect x="257.00" y="477.92" width="9.45" height="9.19" fill="#ffa0a0"/>
<rect x="266.40" y="477.92" width="9.45" height="9.19" fill="#ffd0d0"/>
<rect x="275.80" y="477.92" width="9.45" height="9.19" fill="#b8b8f8"/>
<rect x="285.20" y="477.92" width="9.45" height="9.19" fill="#d8d8f8"/>
<rect x="294.60" y="477.92" width="9.45" height="9.19" fill="#1818f0"/>
<rect x="304.00" y="477.92" width="9.45" height="9.19" fill="#7070f0"/>
<rect x="238.20" y="487.06" width="9.45" height="9.19" fill="#f86060"/>
<rect x="247.60" y="487.06" width="9.45" height="9.19" fill="#ffd0d0"/>
<rect x="257.00" y="487.06" width="9.45" height="9.19" fill="#f00808"/>
<rect x="266.40" y="487.06" width="9.45" height="9.19" fill="#ffffff"/>
<rect x="275.80" y="487.06" width="9.45" height="9.19" fill="#d0d0f8"/>
<rect x="285.20" y="487.06" width="9.45" height="9.19" fill="#b0b0f8"/>
<rect x="294.60" y="487.06" width="9.45" height="9.19" fill="#6868f0"/>
<rect x="304.00" y="487.06" width="9.45" height="9.19" fill="#5858f0"/>
<rect x="238.20" y="496.21" width="9.45" height="9.19" fill="#f86060"/>
<rect x="247.60" y="496.21" width="9.45" height="9.19" fill="#ffa0a0"/>
<rect x="257.00" y="496.21" width="9.45" height="9.19" fill="#f84040"/>
<rect x="266.40" y="496.21" width="9.45" height="9.19" fill="#ffffff"/>
<rect x="275.80" y="496.21" width="9.45" height="9.19" fill="#b8b8f8"/>
<rect x="285.20" y="496.21" width="9.45" height="9.19" fill="#b0b0f8"/>
<rect x="294.60" y="496.21" width="9.45" height="9.19" fill="#3030f0"/>
<rect x="304.00" y="496.21" width="9.45" height="9.19" fill="#a8a8f8"/>
<rect x="238.20" y="505.35" width="9.45" height="9.19" fill="#f86868"/>
<rect x="247.60" y="505.35" width="9.45" height="9.19" fill="#ffa0a0"/>
<rect x="257.00" y="505.35" width="9.45" height="9.19" fill="#ff9898"/>
<rect x="266.40" y="505.35" width="9.45" height="9.19" fill="#ffd0d0"/>
<rect x="275.80" y="505.35" width="9.45" height="9.19" fill="#ffffff"/>
<rect x="285.20" y="505.35" width="9.45" height="9.19" fill="#3030f0"/>
<rect x="294.60" y="505.35" width="9.45" height="9.19" fill="#1818f0"/>
<rect x="304.00" y="505.35" width="9.45" height="9.19" fill="#d8d8f8"/>
<rect x="238.20" y="514.50" width="9.45" height="9.19" fill="#ffb8b8"/>
<rect x="247.60" y="514.50" width="9.45" height="9.19" fill="#f86060"/>
<rect x="257.00" y="514.50" width="9.45" height="9.19" fill="#f86060"/>
<rect x="266.40" y="514.50" width="9.45" height="9.19" fill="#ffc0c0"/>
<rect x="275.80" y="514.50" width="9.45" height="9.19" fill="#ffffff"/>
<rect x="285.20" y="514.50" width="9.45" height="9.19" fill="#3838f0"/>
<rect x="294.60" y="514.50" width="9.45" height="9.19" fill="#5050f0"/>
<rect x="304.00" y="514.50" width="9.45" height="9.19" fill="#8888f0"/>
<rect x="238.20" y="523.64" width="9.45" height="9.19" fill="#ffb8b8"/>
<rect x="247.60" y="523.64" width="9.45" height="9.19" fill="#ffffff"/>
<rect x="257.00" y="523.64" width="9.45" height="9.19" fill="#f84848"/>
<rect x="266.40" y="523.64" width="9.45" height="9.19" fill="#ffb8b8"/>
<rect x="275.80" y="523.64" width="9.45" height="9.19" fill="#ffd0d0"/>
<rect x="285.20" y="523.64" width="9.45" height="9.19" fill="#0000f0"/>
<rect x="294.60" y="523.64" width="9.45" height="9.19" fill="#6868f0"/>
<rect x="304.00" y="523.64" width="9.45" height="9.19" fill="#ffffff"/>
<rect x="238.20" y="532.78" width="9.45" height="9.19" fill="#ffc0c0"/>
<rect x="247.60" y="532.78" width="9.45" height="9.19" fill="#ffd0d0"/>
<rect x="257.00" y="532.78" width="9.45" height="9.19" fill="#ffa0a0"/>
<rect x="266.40" y="532.78" width="9.45" height="9.19" fill="#ff9898"/>
<rect x="275.80" y="532.78" width="9.45" height="9.19" fill="#ffd0d0"/>
<rect x="285.20" y="532.78" width="9.45" height="9.19" fill="#3030f0"/>
<rect x="294.60" y="532.78" width="9.45" height="9.19" fill="#1818f0"/>
<rect x="304.00" y="532.78" width="9.45" height="9.19" fill="#ffffff"/>
<rect x="238.20" y="541.93" width="9.45" height="9.19" fill="#f86060"/>
<rect x="247.60" y="541.93" width="9.45" height="9.19" fill="#ffb8b8"/>
<rect x="257.00" y="541.93" width="9.45" height="9.19" fill="#ffb0b0"/>
<rect x="266.40" y="541.93" width="9.45" height="9.19" fill="#f86868"/>
<rect x="275.80" y="541.93" width="9.45" height="9.19" fill="#d8d8f8"/>
<rect x="285.20" y="541.93" width="9.45" height="9.19" fill="#6868f0"/>
<rect x="294.60" y="541.93" width="9.45" height="9.19" fill="#3030f0"/>
<rect x="304.00" y="541.93" width="9.45" height="9.19" fill="#b0b0f8"/>
<rect x="238.20" y="551.07" width="9.45" height="9.19" fill="#ffa0a0"/>
<rect x="247.60" y="551.07" width="9.45" height="9.19" fill="#ffd0d0"/>
<rect x="257.00" y="551.07" width="9.45" height="9.19" fill="#f86060"/>
<rect x="266.40" y="551.07" width="9.45" height="9.19" fill="#ffa0a0"/>
<rect x="275.80" y="551.07" width="9.45" height="9.19" fill="#d8d8f8"/>
<rect x="285.20" y="551.07" width="9.45" height="9.19" fill="#b8b8f8"/>
<rect x="294.60" y="551.07" width="9.45" height="9.19" fill="#0000f0"/>
<rect x="304.00" y="551.07" width="9.45" height="9.19" fill="#d8d8f8"/>
<rect x="238.20" y="560.22" width="9.45" height="9.19" fill="#f01818"/>
<rect x="247.60" y="560.22" width="9.45" height="9.19" fill="#b0b0f8"/>
<rect x="257.00" y="560.22" width="9.45" height="9.19" fill="#ffa8a8"/>
<rect x="266.40" y="560.22" width="9.45" height="9.19" fill="#ffa0a0"/>
<rect x="275.80" y="560.22" width="9.45" height="9.19" fill="#ffd0d0"/>
<rect x="285.20" y="560.22" width="9.45" height="9.19" fill="#d0d0f8"/>
<rect x="294.60" y="560.22" width="9.45" height="9.19" fill="#1818f0"/>
<rect x="304.00" y="560.22" width="9.45" height="9.19" fill="#c8c8f8"/>
<rect x="238.20" y="569.36" width="9.45" height="9.19" fill="#f85050"/>
<rect x="247.60" y="569.36" width="9.45" height="9.19" fill="#ffffff"/>
<rect x="257.00" y="569.36" width="9.45" height="9.19" fill="#f86868"/>
<rect x="266.40" y="569.36" width="9.45" height="9.19" fill="#ffa0a0"/>
<rect x="275.80" y="569.36" width="9.45" height="9.19" fill="#ffa0a0"/>
<rect x="285.20" y="569.36" width="9.45" height="9.19" fill="#3838f0"/>
<rect x="294.60" y="569.36" width="9.45" height="9.19" fill="#3030f0"/>
<rect x="304.00" y="569.36" width="9.45" height="9.19" fill="#b0b0f8"/>
<rect x="238.20" y="578.50" width="9.45" height="9.19" fill="#f83030"/>
<rect x="247.60" y="578.50" width="9.45" height="9.19" fill="#f85050"/>
<rect x="257.00" y="578.50" width="9.45" height="9.19" fill="#ffffff"/>
<rect x="266.40" y="578.50" width="9.45" height="9.19" fill="#ffa0a0"/>
<rect x="275.80" y="578.50" width="9.45" height="9.19" fill="#4040f0"/>
<rect x="285.20" y="578.50" width="9.45" height="9.19" fill="#9090f0"/>
<rect x="294.60" y="578.50" width="9.45" height="9.19" fill="#9090f0"/>
<rect x="304.00" y="578.50" width="9.45" height="9.19" fill="#ffffff"/>
<rect x="238.20" y="587.65" width="9.45" height="9.19" fill="#f83838"/>
<rect x="247.60" y="587.65" width="9.45" height="9.19" fill="#f85858"/>
<rect x="257.00" y="587.65" width="9.45" height="9.19" fill="#ffb8b8"/>
<rect x="266.40" y="587.65" width="9.45" height="9.19" fill="#ffd8d8"/>
<rect x="275.80" y="587.65" width="9.45" height="9.19" fill="#3838f0"/>
<rect x="285.20" y="587.65" width="9.45" height="9.19" fill="#d0d0f8"/>
<rect x="294.60" y="587.65" width="9.45" height="9.19" fill="#5050f0"/>
<rect x="304.00" y="587.65" width="9.45" height="9.19" fill="#8080f0"/>
<rect x="238.20" y="596.79" width="9.45" height="9.19" fill="#f84040"/>
<rect x="247.60" y="596.79" width="9.45" height="9.19" fill="#f02020"/>
<rect x="257.00" y="596.79" width="9.45" height="9.19" fill="#ffd0d0"/>
<rect x="266.40" y="596.79" width="9.45" height="9.19" fill="#ffffff"/>
<rect x="275.80" y="596.79" width="9.45" height="9.19" fill="#b0b0f8"/>
<rect x="285.20" y="596.79" width="9.45" height="9.19" fill="#b8b8f8"/>
<rect x="294.60" y="596.79" width="9.45" height="9.19" fill="#5050f0"/>
<rect x="304.00" y="596.79" width="9.45" height="9.19" fill="#5050f0"/>
<rect x="238.20" y="605.94" width="9.45" height="9.19" fill="#ffa0a0"/>
<rect x="247.60" y="605.94" width="9.45" height="9.19" fill="#f84040"/>
<rect x="257.00" y="605.94" width="9.45" height="9.19" fill="#ffc0c0"/>
<rect x="266.40" y="605.94" width="9.45" height="9.19" fill="#ffc0c0"/>
<rect x="275.80" y="605.94" width="9.45" height="9.19" fill="#9090f0"/>
<rect x="285.20" y="605.94" width="9.45" height="9.19" fill="#d0d0f8"/>
<rect x="294.60" y="605.94" width="9.45" height="9.19" fill="#5050f0"/>
<rect x="304.00" y="605.94" width="9.45" height="9.19" fill="#5858f0"/>
<rect x="238.20" y="615.08" width="9.45" height="9.19" fill="#f86060"/>
<rect x="247.60" y="615.08" width="9.45" height="9.19" fill="#ffb8b8"/>
<rect x="257.00" y="615.08" width="9.45" height="9.19" fill="#ffb8b8"/>
<rect x="266.40" y="615.08" width="9.45" height="9.19" fill="#ffffff"/>
<rect x="275.80" y="615.08" width="9.45" height="9.19" fill="#f86060"/>
<rect x="285.20" y="615.08" width="9.45" height="9.19" fill="#3030f0"/>
<rect x="294.60" y="615.08" width="9.45" height="9.19" fill="#4848f0"/>
<rect x="304.00" y="615.08" width="9.45" height="9.19" fill="#5050f0"/>
<rect x="238.20" y="624.22" width="9.45" height="9.19" fill="#f86060"/>
<rect x="247.60" y="624.22" width="9.45" height="9.19" fill="#f83838"/>
<rect x="257.00" y="624.22" width="9.45" height="9.19" fill="#ffffff"/>
<rect x="266.40" y="624.22" width="9.45" height="9.19" fill="#ffd8d8"/>
<rect x="275.80" y="624.22" width="9.45" height="9.19" fill="#ffa0a0"/>
<rect x="285.20" y="624.22" width="9.45" height="9.19" fill="#3030f0"/>
<rect x="294.60" y="624.22" width="9.45" height="9.19" fill="#8080f0"/>
<rect x="304.00" y="624.22" width="9.45" height="9.19" fill="#5050f0"/>
<rect x="238.20" y="633.37" width="9.45" height="9.19" fill="#f01818"/>
<rect x="247.60" y="633.37" width="9.45" height="9.19" fill="#ffa0a0"/>
<rect x="257.00" y="633.37" width="9.45" height="9.19" fill="#ffc0c0"/>
<rect x="266.40" y="633.37" width="9.45" height="9.19" fill="#d0d0f8"/>
<rect x="275.80" y="633.37" width="9.45" height="9.19" fill="#b8b8f8"/>
<rect x="285.20" y="633.37" width="9.45" height="9.19" fill="#4848f0"/>
<rect x="294.60" y="633.37" width="9.45" height="9.19" fill="#ffffff"/>
<rect x="304.00" y="633.37" width="9.45" height="9.19" fill="#5858f0"/>
<rect x="238.20" y="642.51" width="9.45" height="9.19" fill="#f01010"/>
<rect x="247.60" y="642.51" width="9.45" height="9.19" fill="#ffb8b8"/>
<rect x="257.00" y="642.51" width="9.45" height="9.19" fill="#ffffff"/>
<rect x="266.40" y="642.51" width="9.45" height="9.19" fill="#ffc0c0"/>
<rect x="275.80" y="642.51" width="9.45" height="9.19" fill="#c0c0f8"/>
<rect x="285.20" y="642.51" width="9.45" height="9.19" fill="#d0d0f8"/>
<rect x="294.60" y="642.51" width="9.45" height="9.19" fill="#4848f0"/>
<rect x="304.00" y="642.51" width="9.45" height="9.19" fill="#9090f0"/>
<rect x="238.20" y="651.66" width="9.45" height="9.19" fill="#f00808"/>
<rect x="247.60" y="651.66" width="9.45" height="9.19" fill="#ffd0d0"/>
<rect x="257.00" y="651.66" width="9.45" height="9.19" fill="#ffb8b8"/>
<rect x="266.40" y="651.66" width="9.45" height="9.19" fill="#ffc0c0"/>
<rect x="275.80" y="651.66" width="9.45" height="9.19" fill="#ffd8d8"/>
<rect x="285.20" y="651.66" width="9.45" height="9.19" fill="#8080f0"/>
<rect x="294.60" y="651.66" width="9.45" height="9.19" fill="#4848f0"/>
<rect x="304.00" y="651.66" width="9.45" height="9.19" fill="#7070f0"/>
</g>
<path d="M238.20,432.20V660.80M247.60,432.20V660.80M257.00,432.20V660.80M266.40,432.20V660.80M275.80,432.20V660.80M285.20,432.20V660.80M294.60,432.20V660.80M304.00,432.20V660.80M313.40,432.20V660.80M238.20,432.20H313.40M238.20,441.34H313.40M238.20,450.49H313.40M238.20,459.63H313.40M238.20,468.78H313.40M238.20,477.92H313.40M238.20,487.06H313.40M238.20,496.21H313.40M238.20,505.35H313.40M238.20,514.50H313.40M238.20,523.64H313.40M238.20,532.78H313.40M238.20,541.93H313.40M238.20,551.07H313.40M238.20,560.22H313.40M238.20,569.36H313.40M238.20,578.50H313.40M238.20,587.65H313.40M238.20,596.79H313.40M238.20,605.94H313.40M238.20,615.08H313.40M238.20,624.22H313.40M238.20,633.37H313.40M238.20,642.51H313.40M238.20,651.66H313.40M238.20,660.80H313.40" stroke="#b8b8c8" stroke-opacity="0.55" stroke-width="0.3" fill="none"/>
<text x="314.20" y="438.93" font-size="6.0" font-weight="normal" fill="#050505" text-anchor="start" stroke="#050505" stroke-width="0.2">PKC-a_pS657-R-C</text>
<text x="314.20" y="448.08" font-size="6.0" font-weight="normal" fill="#050505" text-anchor="start" stroke="#050505" stroke-width="0.2">Akt-R-V</text>
<text x="314.20" y="457.22" font-size="6.0" font-weight="normal" fill="#050505" text-anchor="start" stroke="#050505" stroke-width="0.2">Akt_pS473-R-V</text>
<text x="314.20" y="466.36" font-size="6.0" font-weight="normal" fill="#050505" text-anchor="start" stroke="#050505" stroke-width="0.2">Akt_pT308-R-V</text>
<text x="314.20" y="475.51" font-size="6.0" font-weight="normal" fill="#050505" text-anchor="start" stroke="#050505" stroke-width="0.2">53BP1-R-V</text>
<text x="314.20" y="484.65" font-size="6.0" font-weight="normal" fill="#050505" text-anchor="start" stroke="#050505" stroke-width="0.2">HER3-R-V</text>
<text x="314.20" y="493.80" font-size="6.0" font-weight="normal" fill="#050505" text-anchor="start" stroke="#050505" stroke-width="0.2">Stat3-R-C</text>
<text x="314.20" y="502.94" font-size="6.0" font-weight="normal" fill="#050505" text-anchor="start" stroke="#050505" stroke-width="0.2">Stat5a-R-V</text>
<text x="314.20" y="512.08" font-size="6.0" font-weight="normal" fill="#050505" text-anchor="start" stroke="#050505" stroke-width="0.2">BRD4-R-V</text>
<text x="314.20" y="521.23" font-size="6.0" font-weight="normal" fill="#050505" text-anchor="start" stroke="#050505" stroke-width="0.2">PAK1-R-V</text>
<text x="314.20" y="530.37" font-size="6.0" font-weight="normal" fill="#050505" text-anchor="start" stroke="#050505" stroke-width="0.2">Myosin-IIa_pS1943-R-V</text>
<text x="314.20" y="539.52" font-size="6.0" font-weight="normal" fill="#050505" text-anchor="start" stroke="#050505" stroke-width="0.2">ATM-R-V</text>
<text x="314.20" y="548.66" font-size="6.0" font-weight="normal" fill="#050505" text-anchor="start" stroke="#050505" stroke-width="0.2">DUSP4-R-V</text>
<text x="314.20" y="557.80" font-size="6.0" font-weight="normal" fill="#050505" text-anchor="start" stroke="#050505" stroke-width="0.2">XPF-M-C</text>
<text x="314.20" y="566.95" font-size="6.0" font-weight="normal" fill="#050505" text-anchor="start" stroke="#050505" stroke-width="0.2">TRIM25-R-C</text>
<text x="314.20" y="576.09" font-size="6.0" font-weight="normal" fill="#050505" text-anchor="start" stroke="#050505" stroke-width="0.2">Axl-R-V</text>
<text x="314.20" y="585.24" font-size="6.0" font-weight="normal" fill="#050505" text-anchor="start" stroke="#050505" stroke-width="0.2">Sox2-R-V</text>
<text x="314.20" y="594.38" font-size="6.0" font-weight="normal" fill="#050505" text-anchor="start" stroke="#050505" stroke-width="0.2">eEF2K-R-V</text>
<text x="314.20" y="603.52" font-size="6.0" font-weight="normal" fill="#050505" text-anchor="start" stroke="#050505" stroke-width="0.2">ARID1A-R-C</text>
<text x="314.20" y="612.67" font-size="6.0" font-weight="normal" fill="#050505" text-anchor="start" stroke="#050505" stroke-width="0.2">eIF4G-R-C</text>
<text x="314.20" y="621.81" font-size="6.0" font-weight="normal" fill="#050505" text-anchor="start" stroke="#050505" stroke-width="0.2">TAZ-R-V</text>
<text x="314.20" y="630.96" font-size="6.0" font-weight="normal" fill="#050505" text-anchor="start" stroke="#050505" stroke-width="0.2">YAP_pS127-R-E</text>
<text x="314.20" y="640.10" font-size="6.0" font-weight="normal" fill="#050505" text-anchor="start" stroke="#050505" stroke-width="0.2">PLK1-R-C</text>
<text x="314.20" y="649.24" font-size="6.0" font-weight="normal" fill="#050505" text-anchor="start" stroke="#050505" stroke-width="0.2">Gab2-R-V</text>
<text x="314.20" y="658.39" font-size="6.0" font-weight="normal" fill="#050505" text-anchor="start" stroke="#050505" stroke-width="0.2">Rb_pS807_S811-R-V</text>
<path d="M237.90,445.92H235.30V455.06H237.90M237.90,436.77H233.70V450.49H235.30M233.70,443.63H230.70V464.20H237.90M237.90,473.35H234.70V482.49H237.90M237.90,491.64H234.70V500.78H237.90M234.70,477.92H231.90V496.21H234.70M237.90,509.92H234.70V519.07H237.90M237.90,528.21H234.30V537.36H237.90M234.70,514.50H232.30V532.78H234.30M237.90,546.50H234.70V555.64H237.90M237.90,564.79H233.50V573.93H237.90M234.70,551.07H231.30V569.36H233.50M232.30,523.64H229.30V560.22H231.30M231.90,487.06H226.50V541.93H229.30M237.90,583.08H234.50V592.22H237.90M237.90,601.36H234.90V610.51H237.90M234.50,587.65H231.70V605.94H234.90M237.90,619.65H233.90V628.80H237.90M237.90,647.08H234.90V656.23H237.90M237.90,637.94H232.50V651.66H234.90M233.90,624.22H229.90V644.80H232.50M231.70,596.79H227.30V634.51H229.90M226.50,514.50H223.30V615.65H227.30M230.70,453.92H220.60V565.07H223.30" fill="none" stroke="#8c8c8c" stroke-width="0.45"/>
<path d="M261.70,431.90V428.30H271.10V431.90M252.30,431.90V426.60H266.40V428.30M242.90,431.90V425.20H259.35V426.60M299.30,431.90V427.30H308.70V431.90M289.90,431.90V424.30H304.00V427.30M280.50,431.90V420.90H296.95V424.30M251.12,425.20V414.90H288.73V420.90" fill="none" stroke="#8c8c8c" stroke-width="0.45"/>
<text x="260.10" y="668.80" font-size="9.0" font-weight="bold" fill="#0a0a0a" text-anchor="middle" >Ctrl</text>
<text x="294.60" y="668.80" font-size="9.0" font-weight="bold" fill="#0a0a0a" text-anchor="middle" >6dG</text>
<rect x="380.0" y="432.0" width="2.5" height="36.0" fill="url(#cbar)"/>
<text x="383.20" y="434.40" font-size="4.2" font-weight="normal" fill="#111" text-anchor="start" stroke="#111" stroke-width="0.1">2</text>
<text x="383.20" y="442.80" font-size="4.2" font-weight="normal" fill="#111" text-anchor="start" stroke="#111" stroke-width="0.1">1</text>
<text x="383.20" y="451.40" font-size="4.2" font-weight="normal" fill="#111" text-anchor="start" stroke="#111" stroke-width="0.1">0</text>
<text x="383.20" y="460.80" font-size="4.2" font-weight="normal" fill="#111" text-anchor="start" stroke="#111" stroke-width="0.1">-1</text>
<text x="383.20" y="469.00" font-size="4.2" font-weight="normal" fill="#111" text-anchor="start" stroke="#111" stroke-width="0.1">-2</text>
</svg>
</body>
</html>
